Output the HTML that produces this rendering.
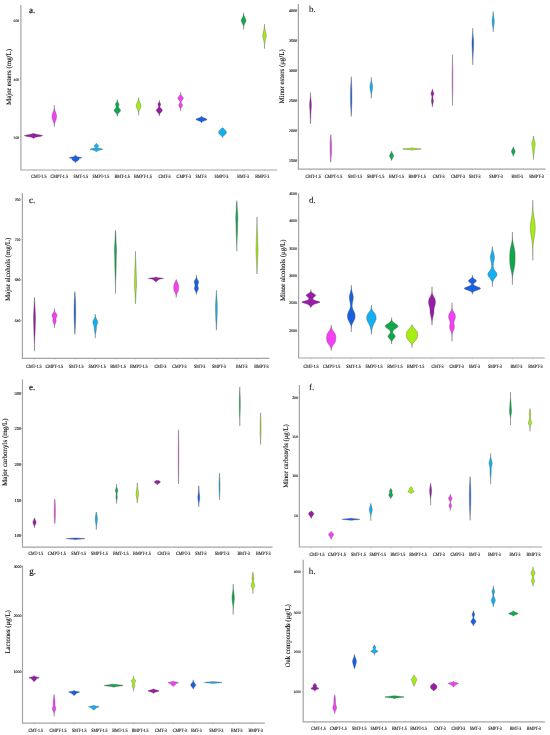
<!DOCTYPE html>
<html><head><meta charset="utf-8"><title>Violin plots</title>
<style>
html,body{margin:0;padding:0;background:#fff;}
svg{display:block;filter:blur(0.3px);}
.t{font-family:"Liberation Serif","Times New Roman",serif;fill:#111;stroke:#111;stroke-width:0.15px;text-rendering:geometricPrecision;}
</style></head>
<body>
<svg width="550" height="735" viewBox="0 0 550 735">
<rect width="550" height="735" fill="#fff"/>
<path d="M20.9,5 V170 H277.2" fill="none" stroke="#a4a4a4" stroke-width="1.2"/>
<path d="M19.6,20 H20.9" stroke="#a4a4a4" stroke-width="0.5"/>
<text x="19.1" y="21.62" font-size="3.7" text-anchor="end" class="t" style="stroke-width:0.12px">600</text>
<path d="M19.6,79 H20.9" stroke="#a4a4a4" stroke-width="0.5"/>
<text x="19.1" y="80.62" font-size="3.7" text-anchor="end" class="t" style="stroke-width:0.12px">400</text>
<path d="M19.6,137.6 H20.9" stroke="#a4a4a4" stroke-width="0.5"/>
<text x="19.1" y="139.22" font-size="3.7" text-anchor="end" class="t" style="stroke-width:0.12px">200</text>
<path d="M33.8,170 V171.2" stroke="#a4a4a4" stroke-width="0.5"/>
<path d="M54.82,170 V171.2" stroke="#a4a4a4" stroke-width="0.5"/>
<path d="M75.84,170 V171.2" stroke="#a4a4a4" stroke-width="0.5"/>
<path d="M96.86,170 V171.2" stroke="#a4a4a4" stroke-width="0.5"/>
<path d="M117.88,170 V171.2" stroke="#a4a4a4" stroke-width="0.5"/>
<path d="M138.9,170 V171.2" stroke="#a4a4a4" stroke-width="0.5"/>
<path d="M159.92,170 V171.2" stroke="#a4a4a4" stroke-width="0.5"/>
<path d="M180.94,170 V171.2" stroke="#a4a4a4" stroke-width="0.5"/>
<path d="M201.96,170 V171.2" stroke="#a4a4a4" stroke-width="0.5"/>
<path d="M222.98,170 V171.2" stroke="#a4a4a4" stroke-width="0.5"/>
<path d="M244,170 V171.2" stroke="#a4a4a4" stroke-width="0.5"/>
<path d="M265.02,170 V171.2" stroke="#a4a4a4" stroke-width="0.5"/>
<text x="31.3" y="178.3" font-size="5.0" textLength="15.2" lengthAdjust="spacingAndGlyphs" class="t" style="stroke-width:0.12px">CMT-1.5</text>
<text x="50.5" y="178.3" font-size="5.0" textLength="17.5" lengthAdjust="spacingAndGlyphs" class="t" style="stroke-width:0.12px">CMPT-1.5</text>
<text x="73.5" y="178.3" font-size="5.0" textLength="14.5" lengthAdjust="spacingAndGlyphs" class="t" style="stroke-width:0.12px">SMT-1.5</text>
<text x="92.6" y="178.3" font-size="5.0" textLength="16.6" lengthAdjust="spacingAndGlyphs" class="t" style="stroke-width:0.12px">SMPT-1.5</text>
<text x="114.4" y="178.3" font-size="5.0" textLength="15.6" lengthAdjust="spacingAndGlyphs" class="t" style="stroke-width:0.12px">BMT-1.5</text>
<text x="134" y="178.3" font-size="5.0" textLength="17.9" lengthAdjust="spacingAndGlyphs" class="t" style="stroke-width:0.12px">BMPT-1.5</text>
<text x="158.4" y="178.3" font-size="5.0" textLength="12.3" lengthAdjust="spacingAndGlyphs" class="t" style="stroke-width:0.12px">CMT-3</text>
<text x="176.6" y="178.3" font-size="5.0" textLength="14.5" lengthAdjust="spacingAndGlyphs" class="t" style="stroke-width:0.12px">CMPT-3</text>
<text x="195.5" y="178.3" font-size="5.0" textLength="11.1" lengthAdjust="spacingAndGlyphs" class="t" style="stroke-width:0.12px">SMT-3</text>
<text x="214.6" y="178.3" font-size="5.0" textLength="13.8" lengthAdjust="spacingAndGlyphs" class="t" style="stroke-width:0.12px">SMPT-3</text>
<text x="237.3" y="178.3" font-size="5.0" textLength="11.6" lengthAdjust="spacingAndGlyphs" class="t" style="stroke-width:0.12px">BMT-3</text>
<text x="255.2" y="178.3" font-size="5.0" textLength="14" lengthAdjust="spacingAndGlyphs" class="t" style="stroke-width:0.12px">BMPT-3</text>
<text x="29" y="12.6" font-size="9.0" class="t" style="stroke-width:0.18px">a.</text>
<text transform="translate(8.5,76.9) rotate(-90)" y="2.4" font-size="7.0" text-anchor="middle" style="stroke-width:0.12px" textLength="56" lengthAdjust="spacingAndGlyphs" class="t">Major esters (mg/L)</text>
<path d="M33.5,133.5 L34.77,133.64 L35.02,133.77 L35.33,133.91 L35.71,134.05 L36.17,134.19 L36.71,134.32 L37.34,134.46 L38.04,134.6 L38.81,134.73 L39.61,134.87 L40.4,135.01 L41.15,135.15 L41.79,135.28 L42.28,135.42 L42.59,135.56 L42.68,135.69 L42.55,135.83 L42.21,135.97 L41.68,136.11 L41.01,136.24 L40.23,136.38 L39.4,136.52 L38.57,136.65 L37.78,136.79 L37.05,136.93 L36.41,137.07 L35.85,137.2 L35.39,137.34 L35.02,137.48 L34.71,137.61 L34.47,137.75 L34.29,137.89 L34.14,138.03 L34.02,138.16 L33.5,138.3 L33.5,138.3 L32.98,138.16 L32.86,138.03 L32.71,137.89 L32.53,137.75 L32.29,137.61 L31.98,137.48 L31.61,137.34 L31.15,137.2 L30.59,137.07 L29.95,136.93 L29.22,136.79 L28.43,136.65 L27.6,136.52 L26.77,136.38 L25.99,136.24 L25.32,136.11 L24.79,135.97 L24.45,135.83 L24.32,135.69 L24.41,135.56 L24.72,135.42 L25.21,135.28 L25.85,135.15 L26.6,135.01 L27.39,134.87 L28.19,134.73 L28.96,134.6 L29.66,134.46 L30.29,134.32 L30.83,134.19 L31.29,134.05 L31.67,133.91 L31.98,133.77 L32.23,133.64 L33.5,133.5Z" fill="#981ca6" stroke="#4a4a4a" stroke-width="0.35" stroke-linejoin="round"/>
<path d="M54.3,105.2 L54.31,105.81 L54.33,106.43 L54.35,107.04 L54.39,107.66 L54.45,108.27 L54.54,108.89 L54.67,109.5 L54.83,110.11 L55.03,110.73 L55.25,111.34 L55.5,111.96 L55.74,112.57 L55.97,113.19 L56.16,113.8 L56.32,114.41 L56.42,115.03 L56.48,115.64 L56.5,116.26 L56.5,116.87 L56.47,117.49 L56.4,118.1 L56.29,118.71 L56.13,119.33 L55.92,119.94 L55.69,120.56 L55.45,121.17 L55.2,121.79 L54.98,122.4 L54.79,123.01 L54.64,123.63 L54.52,124.24 L54.43,124.86 L54.38,125.47 L54.34,126.09 L54.3,126.7 L54.3,126.7 L54.26,126.09 L54.22,125.47 L54.17,124.86 L54.08,124.24 L53.96,123.63 L53.81,123.01 L53.62,122.4 L53.4,121.79 L53.15,121.17 L52.91,120.56 L52.68,119.94 L52.47,119.33 L52.31,118.71 L52.2,118.1 L52.13,117.49 L52.1,116.87 L52.1,116.26 L52.12,115.64 L52.18,115.03 L52.28,114.41 L52.44,113.8 L52.63,113.19 L52.86,112.57 L53.1,111.96 L53.35,111.34 L53.57,110.73 L53.77,110.11 L53.93,109.5 L54.06,108.89 L54.15,108.27 L54.21,107.66 L54.25,107.04 L54.27,106.43 L54.29,105.81 L54.3,105.2Z" fill="#f73ef7" stroke="#4a4a4a" stroke-width="0.35" stroke-linejoin="round"/>
<path d="M75.5,155.2 L75.96,155.41 L76.15,155.62 L76.34,155.83 L76.51,156.05 L76.67,156.26 L76.86,156.47 L77.21,156.68 L77.88,156.89 L78.94,157.1 L80.23,157.31 L81.33,157.53 L81.8,157.74 L81.5,157.95 L80.68,158.16 L79.79,158.37 L79.17,158.58 L78.9,158.79 L78.88,159.01 L78.95,159.22 L79.01,159.43 L78.98,159.64 L78.85,159.85 L78.64,160.06 L78.34,160.27 L78,160.49 L77.63,160.7 L77.26,160.91 L76.91,161.12 L76.59,161.33 L76.32,161.54 L76.1,161.75 L75.92,161.97 L75.79,162.18 L75.69,162.39 L75.5,162.6 L75.5,162.6 L75.31,162.39 L75.21,162.18 L75.08,161.97 L74.9,161.75 L74.68,161.54 L74.41,161.33 L74.09,161.12 L73.74,160.91 L73.37,160.7 L73,160.49 L72.66,160.27 L72.36,160.06 L72.15,159.85 L72.02,159.64 L71.99,159.43 L72.05,159.22 L72.12,159.01 L72.1,158.79 L71.83,158.58 L71.21,158.37 L70.32,158.16 L69.5,157.95 L69.2,157.74 L69.67,157.53 L70.77,157.31 L72.06,157.1 L73.12,156.89 L73.79,156.68 L74.14,156.47 L74.33,156.26 L74.49,156.05 L74.66,155.83 L74.85,155.62 L75.04,155.41 L75.5,155.2Z" fill="#1760e4" stroke="#4a4a4a" stroke-width="0.35" stroke-linejoin="round"/>
<path d="M96.4,143.2 L96.54,143.44 L96.65,143.69 L96.8,143.93 L97.01,144.17 L97.28,144.41 L97.6,144.66 L97.94,144.9 L98.26,145.14 L98.52,145.39 L98.68,145.63 L98.71,145.87 L98.63,146.11 L98.43,146.36 L98.18,146.6 L97.91,146.84 L97.68,147.09 L97.54,147.33 L97.54,147.57 L97.76,147.81 L98.28,148.06 L99.18,148.3 L100.38,148.54 L101.65,148.79 L102.58,149.03 L102.84,149.27 L102.33,149.51 L101.28,149.76 L100.08,150 L99.04,150.24 L98.28,150.49 L97.76,150.73 L97.4,150.97 L97.14,151.21 L96.93,151.46 L96.4,151.7 L96.4,151.7 L95.87,151.46 L95.66,151.21 L95.4,150.97 L95.04,150.73 L94.52,150.49 L93.76,150.24 L92.72,150 L91.52,149.76 L90.47,149.51 L89.96,149.27 L90.22,149.03 L91.15,148.79 L92.42,148.54 L93.62,148.3 L94.52,148.06 L95.04,147.81 L95.26,147.57 L95.26,147.33 L95.12,147.09 L94.89,146.84 L94.62,146.6 L94.37,146.36 L94.17,146.11 L94.09,145.87 L94.12,145.63 L94.28,145.39 L94.54,145.14 L94.86,144.9 L95.2,144.66 L95.52,144.41 L95.79,144.17 L96,143.93 L96.15,143.69 L96.26,143.44 L96.4,143.2Z" fill="#12b0ee" stroke="#4a4a4a" stroke-width="0.35" stroke-linejoin="round"/>
<path d="M117.3,99.4 L117.33,99.89 L117.37,100.37 L117.45,100.86 L117.57,101.34 L117.77,101.83 L118.03,102.31 L118.33,102.8 L118.64,103.29 L118.89,103.77 L119.02,104.26 L119.02,104.74 L118.9,105.23 L118.72,105.71 L118.56,106.2 L118.48,106.69 L118.55,107.17 L118.76,107.66 L119.1,108.14 L119.51,108.63 L119.92,109.11 L120.26,109.6 L120.46,110.09 L120.49,110.57 L120.33,111.06 L120.02,111.54 L119.6,112.03 L119.13,112.51 L118.67,113 L118.27,113.49 L117.95,113.97 L117.71,114.46 L117.54,114.94 L117.44,115.43 L117.37,115.91 L117.3,116.4 L117.3,116.4 L117.23,115.91 L117.16,115.43 L117.06,114.94 L116.89,114.46 L116.65,113.97 L116.33,113.49 L115.93,113 L115.47,112.51 L115,112.03 L114.58,111.54 L114.27,111.06 L114.11,110.57 L114.14,110.09 L114.34,109.6 L114.68,109.11 L115.09,108.63 L115.5,108.14 L115.84,107.66 L116.05,107.17 L116.12,106.69 L116.04,106.2 L115.88,105.71 L115.7,105.23 L115.58,104.74 L115.58,104.26 L115.71,103.77 L115.96,103.29 L116.27,102.8 L116.57,102.31 L116.83,101.83 L117.03,101.34 L117.15,100.86 L117.23,100.37 L117.27,99.89 L117.3,99.4Z" fill="#10a84a" stroke="#4a4a4a" stroke-width="0.35" stroke-linejoin="round"/>
<path d="M138.6,97.8 L138.71,98.3 L138.76,98.8 L138.83,99.3 L138.92,99.8 L139.05,100.3 L139.2,100.8 L139.38,101.3 L139.59,101.8 L139.82,102.3 L140.06,102.8 L140.3,103.3 L140.52,103.8 L140.72,104.3 L140.87,104.8 L140.97,105.3 L141,105.8 L140.97,106.3 L140.87,106.8 L140.72,107.3 L140.52,107.8 L140.3,108.3 L140.06,108.8 L139.82,109.3 L139.59,109.8 L139.38,110.3 L139.2,110.8 L139.05,111.3 L138.92,111.8 L138.83,112.3 L138.76,112.8 L138.71,113.3 L138.67,113.8 L138.64,114.3 L138.63,114.8 L138.6,115.3 L138.6,115.3 L138.57,114.8 L138.56,114.3 L138.53,113.8 L138.49,113.3 L138.44,112.8 L138.37,112.3 L138.28,111.8 L138.15,111.3 L138,110.8 L137.82,110.3 L137.61,109.8 L137.38,109.3 L137.14,108.8 L136.9,108.3 L136.68,107.8 L136.48,107.3 L136.33,106.8 L136.23,106.3 L136.2,105.8 L136.23,105.3 L136.33,104.8 L136.48,104.3 L136.68,103.8 L136.9,103.3 L137.14,102.8 L137.38,102.3 L137.61,101.8 L137.82,101.3 L138,100.8 L138.15,100.3 L138.28,99.8 L138.37,99.3 L138.44,98.8 L138.49,98.3 L138.6,97.8Z" fill="#a6ee12" stroke="#4a4a4a" stroke-width="0.35" stroke-linejoin="round"/>
<path d="M159.3,100.2 L159.33,100.65 L159.37,101.11 L159.45,101.56 L159.6,102.02 L159.82,102.47 L160.1,102.93 L160.39,103.38 L160.62,103.83 L160.72,104.29 L160.66,104.74 L160.47,105.2 L160.25,105.65 L160.07,106.11 L160,106.56 L160.07,107.01 L160.28,107.47 L160.61,107.92 L161.01,108.38 L161.44,108.83 L161.83,109.29 L162.12,109.74 L162.28,110.19 L162.27,110.65 L162.1,111.1 L161.79,111.56 L161.39,112.01 L160.96,112.47 L160.54,112.92 L160.18,113.37 L159.89,113.83 L159.67,114.28 L159.52,114.74 L159.42,115.19 L159.37,115.65 L159.3,116.1 L159.3,116.1 L159.23,115.65 L159.18,115.19 L159.08,114.74 L158.93,114.28 L158.71,113.83 L158.42,113.37 L158.06,112.92 L157.64,112.47 L157.21,112.01 L156.81,111.56 L156.5,111.1 L156.33,110.65 L156.32,110.19 L156.48,109.74 L156.77,109.29 L157.16,108.83 L157.59,108.38 L157.99,107.92 L158.32,107.47 L158.53,107.01 L158.6,106.56 L158.53,106.11 L158.35,105.65 L158.13,105.2 L157.94,104.74 L157.88,104.29 L157.98,103.83 L158.21,103.38 L158.5,102.93 L158.78,102.47 L159,102.02 L159.15,101.56 L159.23,101.11 L159.27,100.65 L159.3,100.2Z" fill="#981ca6" stroke="#4a4a4a" stroke-width="0.35" stroke-linejoin="round"/>
<path d="M180.6,92.4 L180.64,92.94 L180.69,93.47 L180.78,94.01 L180.94,94.55 L181.2,95.09 L181.57,95.62 L182.02,96.16 L182.51,96.7 L182.94,97.23 L183.22,97.77 L183.3,98.31 L183.13,98.85 L182.78,99.38 L182.32,99.92 L181.86,100.46 L181.49,100.99 L181.25,101.53 L181.18,102.07 L181.28,102.61 L181.51,103.14 L181.83,103.68 L182.16,104.22 L182.41,104.75 L182.5,105.29 L182.41,105.83 L182.16,106.37 L181.82,106.9 L181.46,107.44 L181.15,107.98 L180.92,108.51 L180.77,109.05 L180.68,109.59 L180.63,110.13 L180.61,110.66 L180.6,111.2 L180.6,111.2 L180.59,110.66 L180.57,110.13 L180.52,109.59 L180.43,109.05 L180.28,108.51 L180.05,107.98 L179.74,107.44 L179.38,106.9 L179.04,106.37 L178.79,105.83 L178.7,105.29 L178.79,104.75 L179.04,104.22 L179.37,103.68 L179.69,103.14 L179.92,102.61 L180.02,102.07 L179.95,101.53 L179.71,100.99 L179.34,100.46 L178.88,99.92 L178.42,99.38 L178.07,98.85 L177.9,98.31 L177.98,97.77 L178.26,97.23 L178.69,96.7 L179.18,96.16 L179.63,95.62 L180,95.09 L180.26,94.55 L180.42,94.01 L180.51,93.47 L180.56,92.94 L180.6,92.4Z" fill="#f73ef7" stroke="#4a4a4a" stroke-width="0.35" stroke-linejoin="round"/>
<path d="M201.5,116.2 L201.74,116.39 L201.85,116.58 L202,116.77 L202.2,116.97 L202.46,117.16 L202.78,117.35 L203.15,117.54 L203.59,117.73 L204.08,117.92 L204.6,118.11 L205.13,118.31 L205.64,118.5 L206.11,118.69 L206.51,118.88 L206.8,119.07 L206.96,119.26 L206.99,119.45 L206.89,119.65 L206.65,119.84 L206.29,120.03 L205.85,120.22 L205.36,120.41 L204.83,120.6 L204.3,120.79 L203.8,120.99 L203.34,121.18 L202.93,121.37 L202.59,121.56 L202.31,121.75 L202.08,121.94 L201.91,122.13 L201.78,122.33 L201.69,122.52 L201.62,122.71 L201.5,122.9 L201.5,122.9 L201.38,122.71 L201.31,122.52 L201.22,122.33 L201.09,122.13 L200.92,121.94 L200.69,121.75 L200.41,121.56 L200.07,121.37 L199.66,121.18 L199.2,120.99 L198.7,120.79 L198.17,120.6 L197.64,120.41 L197.15,120.22 L196.71,120.03 L196.35,119.84 L196.11,119.65 L196.01,119.45 L196.04,119.26 L196.2,119.07 L196.49,118.88 L196.89,118.69 L197.36,118.5 L197.87,118.31 L198.4,118.11 L198.92,117.92 L199.41,117.73 L199.85,117.54 L200.22,117.35 L200.54,117.16 L200.8,116.97 L201,116.77 L201.15,116.58 L201.26,116.39 L201.5,116.2Z" fill="#1760e4" stroke="#4a4a4a" stroke-width="0.35" stroke-linejoin="round"/>
<path d="M222.5,127.7 L223.11,127.99 L223.32,128.27 L223.58,128.56 L223.87,128.84 L224.19,129.13 L224.53,129.41 L224.86,129.7 L225.18,129.99 L225.47,130.27 L225.72,130.56 L225.92,130.84 L226.07,131.13 L226.17,131.41 L226.23,131.7 L226.27,131.99 L226.3,132.27 L226.31,132.56 L226.3,132.84 L226.24,133.13 L226.14,133.41 L225.98,133.7 L225.76,133.99 L225.48,134.27 L225.16,134.56 L224.8,134.84 L224.43,135.13 L224.06,135.41 L223.71,135.7 L223.4,135.99 L223.15,136.27 L222.95,136.56 L222.79,136.84 L222.69,137.13 L222.61,137.41 L222.5,137.7 L222.5,137.7 L222.39,137.41 L222.31,137.13 L222.21,136.84 L222.05,136.56 L221.85,136.27 L221.6,135.99 L221.29,135.7 L220.94,135.41 L220.57,135.13 L220.2,134.84 L219.84,134.56 L219.52,134.27 L219.24,133.99 L219.02,133.7 L218.86,133.41 L218.76,133.13 L218.7,132.84 L218.69,132.56 L218.7,132.27 L218.73,131.99 L218.77,131.7 L218.83,131.41 L218.93,131.13 L219.08,130.84 L219.28,130.56 L219.53,130.27 L219.82,129.99 L220.14,129.7 L220.47,129.41 L220.81,129.13 L221.13,128.84 L221.42,128.56 L221.68,128.27 L221.89,127.99 L222.5,127.7Z" fill="#12b0ee" stroke="#4a4a4a" stroke-width="0.35" stroke-linejoin="round"/>
<path d="M243.6,12.7 L243.65,13.18 L243.68,13.66 L243.72,14.14 L243.79,14.62 L243.88,15.1 L244,15.58 L244.16,16.06 L244.35,16.54 L244.58,17.02 L244.83,17.5 L245.1,17.98 L245.36,18.46 L245.6,18.94 L245.8,19.42 L245.94,19.9 L246,20.38 L245.98,20.86 L245.88,21.34 L245.71,21.82 L245.49,22.3 L245.23,22.78 L244.97,23.26 L244.7,23.74 L244.46,24.22 L244.25,24.7 L244.07,25.18 L243.93,25.66 L243.83,26.14 L243.75,26.62 L243.7,27.1 L243.66,27.58 L243.64,28.06 L243.62,28.54 L243.61,29.02 L243.6,29.5 L243.6,29.5 L243.59,29.02 L243.58,28.54 L243.56,28.06 L243.54,27.58 L243.5,27.1 L243.45,26.62 L243.37,26.14 L243.27,25.66 L243.13,25.18 L242.95,24.7 L242.74,24.22 L242.5,23.74 L242.23,23.26 L241.97,22.78 L241.71,22.3 L241.49,21.82 L241.32,21.34 L241.22,20.86 L241.2,20.38 L241.26,19.9 L241.4,19.42 L241.6,18.94 L241.84,18.46 L242.1,17.98 L242.37,17.5 L242.62,17.02 L242.85,16.54 L243.04,16.06 L243.2,15.58 L243.32,15.1 L243.41,14.62 L243.48,14.14 L243.52,13.66 L243.55,13.18 L243.6,12.7Z" fill="#10a84a" stroke="#4a4a4a" stroke-width="0.35" stroke-linejoin="round"/>
<path d="M264.5,24.1 L264.55,24.8 L264.57,25.5 L264.61,26.2 L264.67,26.9 L264.74,27.6 L264.84,28.3 L264.95,29 L265.09,29.7 L265.25,30.4 L265.43,31.1 L265.61,31.8 L265.78,32.5 L265.94,33.2 L266.07,33.9 L266.16,34.6 L266.2,35.3 L266.19,36 L266.13,36.7 L266.02,37.4 L265.88,38.1 L265.71,38.8 L265.53,39.5 L265.35,40.2 L265.18,40.9 L265.03,41.6 L264.9,42.3 L264.79,43 L264.71,43.7 L264.64,44.4 L264.6,45.1 L264.56,45.8 L264.54,46.5 L264.52,47.2 L264.51,47.9 L264.5,48.6 L264.5,48.6 L264.49,47.9 L264.48,47.2 L264.46,46.5 L264.44,45.8 L264.4,45.1 L264.36,44.4 L264.29,43.7 L264.21,43 L264.1,42.3 L263.97,41.6 L263.82,40.9 L263.65,40.2 L263.47,39.5 L263.29,38.8 L263.12,38.1 L262.98,37.4 L262.87,36.7 L262.81,36 L262.8,35.3 L262.84,34.6 L262.93,33.9 L263.06,33.2 L263.22,32.5 L263.39,31.8 L263.57,31.1 L263.75,30.4 L263.91,29.7 L264.05,29 L264.16,28.3 L264.26,27.6 L264.33,26.9 L264.39,26.2 L264.43,25.5 L264.45,24.8 L264.5,24.1Z" fill="#a6ee12" stroke="#4a4a4a" stroke-width="0.35" stroke-linejoin="round"/>
<path d="M298.4,4 V169.2 H545.5" fill="none" stroke="#a4a4a4" stroke-width="1.2"/>
<path d="M297.1,10 H298.4" stroke="#a4a4a4" stroke-width="0.5"/>
<text x="297.1" y="12.15" font-size="4.1" text-anchor="end" class="t" style="stroke-width:0.12px">4000</text>
<path d="M297.1,40 H298.4" stroke="#a4a4a4" stroke-width="0.5"/>
<text x="297.1" y="42.15" font-size="4.1" text-anchor="end" class="t" style="stroke-width:0.12px">3500</text>
<path d="M297.1,70 H298.4" stroke="#a4a4a4" stroke-width="0.5"/>
<text x="297.1" y="72.15" font-size="4.1" text-anchor="end" class="t" style="stroke-width:0.12px">3000</text>
<path d="M297.1,100 H298.4" stroke="#a4a4a4" stroke-width="0.5"/>
<text x="297.1" y="102.15" font-size="4.1" text-anchor="end" class="t" style="stroke-width:0.12px">2500</text>
<path d="M297.1,130 H298.4" stroke="#a4a4a4" stroke-width="0.5"/>
<text x="297.1" y="132.15" font-size="4.1" text-anchor="end" class="t" style="stroke-width:0.12px">2000</text>
<path d="M297.1,160 H298.4" stroke="#a4a4a4" stroke-width="0.5"/>
<text x="297.1" y="162.15" font-size="4.1" text-anchor="end" class="t" style="stroke-width:0.12px">1500</text>
<path d="M310.4,169.2 V170.4" stroke="#a4a4a4" stroke-width="0.5"/>
<path d="M330.66,169.2 V170.4" stroke="#a4a4a4" stroke-width="0.5"/>
<path d="M350.92,169.2 V170.4" stroke="#a4a4a4" stroke-width="0.5"/>
<path d="M371.18,169.2 V170.4" stroke="#a4a4a4" stroke-width="0.5"/>
<path d="M391.44,169.2 V170.4" stroke="#a4a4a4" stroke-width="0.5"/>
<path d="M411.7,169.2 V170.4" stroke="#a4a4a4" stroke-width="0.5"/>
<path d="M431.96,169.2 V170.4" stroke="#a4a4a4" stroke-width="0.5"/>
<path d="M452.22,169.2 V170.4" stroke="#a4a4a4" stroke-width="0.5"/>
<path d="M472.48,169.2 V170.4" stroke="#a4a4a4" stroke-width="0.5"/>
<path d="M492.74,169.2 V170.4" stroke="#a4a4a4" stroke-width="0.5"/>
<path d="M513,169.2 V170.4" stroke="#a4a4a4" stroke-width="0.5"/>
<path d="M533.26,169.2 V170.4" stroke="#a4a4a4" stroke-width="0.5"/>
<text x="305.6" y="178.3" font-size="5.0" textLength="15.2" lengthAdjust="spacingAndGlyphs" class="t" style="stroke-width:0.12px">CMT-1.5</text>
<text x="324.8" y="178.3" font-size="5.0" textLength="17.5" lengthAdjust="spacingAndGlyphs" class="t" style="stroke-width:0.12px">CMPT-1.5</text>
<text x="348.1" y="178.3" font-size="5.0" textLength="14.1" lengthAdjust="spacingAndGlyphs" class="t" style="stroke-width:0.12px">SMT-1.5</text>
<text x="366.9" y="178.3" font-size="5.0" textLength="17.4" lengthAdjust="spacingAndGlyphs" class="t" style="stroke-width:0.12px">SMPT-1.5</text>
<text x="389.1" y="178.3" font-size="5.0" textLength="14.9" lengthAdjust="spacingAndGlyphs" class="t" style="stroke-width:0.12px">BMT-1.5</text>
<text x="408.4" y="178.3" font-size="5.0" textLength="17.4" lengthAdjust="spacingAndGlyphs" class="t" style="stroke-width:0.12px">BMPT-1.5</text>
<text x="432.7" y="178.3" font-size="5.0" textLength="12" lengthAdjust="spacingAndGlyphs" class="t" style="stroke-width:0.12px">CMT-3</text>
<text x="450.9" y="178.3" font-size="5.0" textLength="14.1" lengthAdjust="spacingAndGlyphs" class="t" style="stroke-width:0.12px">CMPT-3</text>
<text x="469" y="178.3" font-size="5.0" textLength="11.6" lengthAdjust="spacingAndGlyphs" class="t" style="stroke-width:0.12px">SMT-3</text>
<text x="489.3" y="178.3" font-size="5.0" textLength="13.5" lengthAdjust="spacingAndGlyphs" class="t" style="stroke-width:0.12px">SMPT-3</text>
<text x="511.6" y="178.3" font-size="5.0" textLength="11.5" lengthAdjust="spacingAndGlyphs" class="t" style="stroke-width:0.12px">BMT-3</text>
<text x="529.3" y="178.3" font-size="5.0" textLength="14.5" lengthAdjust="spacingAndGlyphs" class="t" style="stroke-width:0.12px">BMPT-3</text>
<text x="308.9" y="12.4" font-size="9.0" class="t" style="stroke-width:0.05px">b.</text>
<text transform="translate(281.1,76.35) rotate(-90)" y="2.4" font-size="7.0" text-anchor="middle" style="stroke-width:0.12px" textLength="54.1" lengthAdjust="spacingAndGlyphs" class="t">Minor esters (μg/L)</text>
<path d="M310.5,92.5 L310.57,93.39 L310.59,94.29 L310.63,95.18 L310.68,96.08 L310.74,96.97 L310.81,97.87 L310.9,98.76 L311,99.65 L311.1,100.55 L311.2,101.44 L311.29,102.34 L311.35,103.23 L311.39,104.13 L311.4,105.02 L311.39,105.91 L311.35,106.81 L311.29,107.7 L311.23,108.6 L311.16,109.49 L311.1,110.39 L311.05,111.28 L311,112.17 L310.96,113.07 L310.92,113.96 L310.89,114.86 L310.85,115.75 L310.82,116.65 L310.79,117.54 L310.76,118.43 L310.73,119.33 L310.7,120.22 L310.67,121.12 L310.65,122.01 L310.62,122.91 L310.5,123.8 L310.5,123.8 L310.38,122.91 L310.35,122.01 L310.33,121.12 L310.3,120.22 L310.27,119.33 L310.24,118.43 L310.21,117.54 L310.18,116.65 L310.15,115.75 L310.11,114.86 L310.08,113.96 L310.04,113.07 L310,112.17 L309.95,111.28 L309.9,110.39 L309.84,109.49 L309.77,108.6 L309.71,107.7 L309.65,106.81 L309.61,105.91 L309.6,105.02 L309.61,104.13 L309.65,103.23 L309.71,102.34 L309.8,101.44 L309.9,100.55 L310,99.65 L310.1,98.76 L310.19,97.87 L310.26,96.97 L310.32,96.08 L310.37,95.18 L310.41,94.29 L310.43,93.39 L310.5,92.5Z" fill="#981ca6" stroke="#4a4a4a" stroke-width="0.35" stroke-linejoin="round"/>
<path d="M330.8,134.7 L331,135.49 L331.05,136.28 L331.11,137.07 L331.17,137.87 L331.23,138.66 L331.29,139.45 L331.34,140.24 L331.39,141.03 L331.44,141.82 L331.47,142.61 L331.5,143.41 L331.52,144.2 L331.54,144.99 L331.54,145.78 L331.55,146.57 L331.55,147.36 L331.55,148.15 L331.55,148.95 L331.55,149.74 L331.54,150.53 L331.53,151.32 L331.52,152.11 L331.49,152.9 L331.46,153.69 L331.42,154.49 L331.38,155.28 L331.32,156.07 L331.27,156.86 L331.2,157.65 L331.14,158.44 L331.08,159.23 L331.03,160.03 L330.98,160.82 L330.93,161.61 L330.8,162.4 L330.8,162.4 L330.67,161.61 L330.62,160.82 L330.57,160.03 L330.52,159.23 L330.46,158.44 L330.4,157.65 L330.33,156.86 L330.28,156.07 L330.22,155.28 L330.18,154.49 L330.14,153.69 L330.11,152.9 L330.08,152.11 L330.07,151.32 L330.06,150.53 L330.05,149.74 L330.05,148.95 L330.05,148.15 L330.05,147.36 L330.05,146.57 L330.06,145.78 L330.06,144.99 L330.08,144.2 L330.1,143.41 L330.13,142.61 L330.16,141.82 L330.21,141.03 L330.26,140.24 L330.31,139.45 L330.37,138.66 L330.43,137.87 L330.49,137.07 L330.55,136.28 L330.6,135.49 L330.8,134.7Z" fill="#f73ef7" stroke="#4a4a4a" stroke-width="0.35" stroke-linejoin="round"/>
<path d="M351.2,76.5 L351.29,77.64 L351.32,78.79 L351.37,79.93 L351.42,81.07 L351.47,82.21 L351.54,83.36 L351.6,84.5 L351.66,85.64 L351.71,86.79 L351.76,87.93 L351.81,89.07 L351.84,90.21 L351.86,91.36 L351.88,92.5 L351.89,93.64 L351.9,94.79 L351.9,95.93 L351.9,97.07 L351.9,98.21 L351.9,99.36 L351.89,100.5 L351.88,101.64 L351.86,102.79 L351.84,103.93 L351.8,105.07 L351.76,106.21 L351.71,107.36 L351.65,108.5 L351.59,109.64 L351.53,110.79 L351.47,111.93 L351.41,113.07 L351.36,114.21 L351.32,115.36 L351.2,116.5 L351.2,116.5 L351.08,115.36 L351.04,114.21 L350.99,113.07 L350.93,111.93 L350.87,110.79 L350.81,109.64 L350.75,108.5 L350.69,107.36 L350.64,106.21 L350.6,105.07 L350.56,103.93 L350.54,102.79 L350.52,101.64 L350.51,100.5 L350.5,99.36 L350.5,98.21 L350.5,97.07 L350.5,95.93 L350.5,94.79 L350.51,93.64 L350.52,92.5 L350.54,91.36 L350.56,90.21 L350.59,89.07 L350.64,87.93 L350.69,86.79 L350.74,85.64 L350.8,84.5 L350.86,83.36 L350.93,82.21 L350.98,81.07 L351.03,79.93 L351.08,78.79 L351.11,77.64 L351.2,76.5Z" fill="#1760e4" stroke="#4a4a4a" stroke-width="0.35" stroke-linejoin="round"/>
<path d="M371.3,77.3 L371.33,77.9 L371.35,78.51 L371.38,79.11 L371.42,79.71 L371.49,80.31 L371.57,80.92 L371.67,81.52 L371.8,82.12 L371.94,82.73 L372.09,83.33 L372.24,83.93 L372.39,84.53 L372.52,85.14 L372.61,85.74 L372.68,86.34 L372.7,86.95 L372.69,87.55 L372.65,88.15 L372.57,88.75 L372.47,89.36 L372.36,89.96 L372.24,90.56 L372.11,91.17 L371.98,91.77 L371.85,92.37 L371.74,92.97 L371.64,93.58 L371.55,94.18 L371.48,94.78 L371.43,95.39 L371.39,95.99 L371.36,96.59 L371.33,97.19 L371.32,97.8 L371.3,98.4 L371.3,98.4 L371.28,97.8 L371.27,97.19 L371.24,96.59 L371.21,95.99 L371.17,95.39 L371.12,94.78 L371.05,94.18 L370.96,93.58 L370.86,92.97 L370.75,92.37 L370.62,91.77 L370.49,91.17 L370.36,90.56 L370.24,89.96 L370.13,89.36 L370.03,88.75 L369.95,88.15 L369.91,87.55 L369.9,86.95 L369.92,86.34 L369.99,85.74 L370.08,85.14 L370.21,84.53 L370.36,83.93 L370.51,83.33 L370.66,82.73 L370.8,82.12 L370.93,81.52 L371.03,80.92 L371.11,80.31 L371.18,79.71 L371.22,79.11 L371.25,78.51 L371.27,77.9 L371.3,77.3Z" fill="#12b0ee" stroke="#4a4a4a" stroke-width="0.35" stroke-linejoin="round"/>
<path d="M391.6,151.1 L391.77,151.37 L391.83,151.64 L391.9,151.91 L391.99,152.17 L392.09,152.44 L392.21,152.71 L392.34,152.98 L392.49,153.25 L392.64,153.52 L392.8,153.79 L392.97,154.05 L393.12,154.32 L393.27,154.59 L393.39,154.86 L393.49,155.13 L393.56,155.4 L393.6,155.67 L393.6,155.93 L393.56,156.2 L393.49,156.47 L393.39,156.74 L393.27,157.01 L393.12,157.28 L392.97,157.55 L392.8,157.81 L392.64,158.08 L392.49,158.35 L392.34,158.62 L392.21,158.89 L392.09,159.16 L391.99,159.43 L391.9,159.69 L391.83,159.96 L391.77,160.23 L391.6,160.5 L391.6,160.5 L391.43,160.23 L391.37,159.96 L391.3,159.69 L391.21,159.43 L391.11,159.16 L390.99,158.89 L390.86,158.62 L390.71,158.35 L390.56,158.08 L390.4,157.81 L390.23,157.55 L390.08,157.28 L389.93,157.01 L389.81,156.74 L389.71,156.47 L389.64,156.2 L389.6,155.93 L389.6,155.67 L389.64,155.4 L389.71,155.13 L389.81,154.86 L389.93,154.59 L390.08,154.32 L390.23,154.05 L390.4,153.79 L390.56,153.52 L390.71,153.25 L390.86,152.98 L390.99,152.71 L391.11,152.44 L391.21,152.17 L391.3,151.91 L391.37,151.64 L391.43,151.37 L391.6,151.1Z" fill="#10a84a" stroke="#4a4a4a" stroke-width="0.35" stroke-linejoin="round"/>
<path d="M412,147.8 L412.4,147.87 L412.59,147.94 L412.84,148.01 L413.18,148.09 L413.61,148.16 L414.14,148.23 L414.77,148.3 L415.51,148.37 L416.32,148.44 L417.19,148.51 L418.09,148.59 L418.96,148.66 L419.75,148.73 L420.43,148.8 L420.93,148.87 L421.23,148.94 L421.3,149.01 L421.13,149.09 L420.75,149.16 L420.17,149.23 L419.45,149.3 L418.62,149.37 L417.73,149.44 L416.84,149.51 L415.99,149.59 L415.2,149.66 L414.51,149.73 L413.92,149.8 L413.43,149.87 L413.04,149.94 L412.73,150.01 L412.51,150.09 L412.34,150.16 L412.22,150.23 L412,150.3 L412,150.3 L411.78,150.23 L411.66,150.16 L411.49,150.09 L411.27,150.01 L410.96,149.94 L410.57,149.87 L410.08,149.8 L409.49,149.73 L408.8,149.66 L408.01,149.59 L407.16,149.51 L406.27,149.44 L405.38,149.37 L404.55,149.3 L403.83,149.23 L403.25,149.16 L402.87,149.09 L402.7,149.01 L402.77,148.94 L403.07,148.87 L403.57,148.8 L404.25,148.73 L405.04,148.66 L405.91,148.59 L406.81,148.51 L407.68,148.44 L408.49,148.37 L409.23,148.3 L409.86,148.23 L410.39,148.16 L410.82,148.09 L411.16,148.01 L411.41,147.94 L411.6,147.87 L412,147.8Z" fill="#a6ee12" stroke="#4a4a4a" stroke-width="0.35" stroke-linejoin="round"/>
<path d="M432.4,88.8 L432.49,89.32 L432.58,89.84 L432.71,90.36 L432.89,90.88 L433.11,91.4 L433.35,91.92 L433.58,92.44 L433.74,92.96 L433.81,93.48 L433.77,94 L433.63,94.52 L433.43,95.04 L433.22,95.56 L433.05,96.08 L432.93,96.6 L432.89,97.12 L432.9,97.64 L432.97,98.16 L433.07,98.68 L433.18,99.2 L433.28,99.72 L433.36,100.24 L433.4,100.76 L433.39,101.28 L433.35,101.8 L433.27,102.32 L433.16,102.84 L433.04,103.36 L432.92,103.88 L432.8,104.4 L432.69,104.92 L432.61,105.44 L432.54,105.96 L432.49,106.48 L432.4,107 L432.4,107 L432.31,106.48 L432.26,105.96 L432.19,105.44 L432.11,104.92 L432,104.4 L431.88,103.88 L431.76,103.36 L431.64,102.84 L431.53,102.32 L431.45,101.8 L431.41,101.28 L431.4,100.76 L431.44,100.24 L431.52,99.72 L431.62,99.2 L431.73,98.68 L431.83,98.16 L431.9,97.64 L431.91,97.12 L431.87,96.6 L431.75,96.08 L431.58,95.56 L431.37,95.04 L431.17,94.52 L431.03,94 L430.99,93.48 L431.06,92.96 L431.22,92.44 L431.45,91.92 L431.69,91.4 L431.91,90.88 L432.09,90.36 L432.22,89.84 L432.31,89.32 L432.4,88.8Z" fill="#981ca6" stroke="#4a4a4a" stroke-width="0.35" stroke-linejoin="round"/>
<path d="M452.5,54.7 L452.53,56.15 L452.55,57.61 L452.57,59.06 L452.59,60.52 L452.62,61.97 L452.65,63.43 L452.69,64.88 L452.72,66.33 L452.75,67.79 L452.78,69.24 L452.8,70.7 L452.82,72.15 L452.83,73.61 L452.84,75.06 L452.85,76.51 L452.85,77.97 L452.85,79.42 L452.85,80.88 L452.85,82.33 L452.85,83.79 L452.84,85.24 L452.83,86.69 L452.82,88.15 L452.8,89.6 L452.77,91.06 L452.74,92.51 L452.71,93.97 L452.68,95.42 L452.65,96.87 L452.61,98.33 L452.59,99.78 L452.56,101.24 L452.54,102.69 L452.53,104.15 L452.5,105.6 L452.5,105.6 L452.47,104.15 L452.46,102.69 L452.44,101.24 L452.41,99.78 L452.39,98.33 L452.35,96.87 L452.32,95.42 L452.29,93.97 L452.26,92.51 L452.23,91.06 L452.2,89.6 L452.18,88.15 L452.17,86.69 L452.16,85.24 L452.15,83.79 L452.15,82.33 L452.15,80.88 L452.15,79.42 L452.15,77.97 L452.15,76.51 L452.16,75.06 L452.17,73.61 L452.18,72.15 L452.2,70.7 L452.22,69.24 L452.25,67.79 L452.28,66.33 L452.31,64.88 L452.35,63.43 L452.38,61.97 L452.41,60.52 L452.43,59.06 L452.45,57.61 L452.47,56.15 L452.5,54.7Z" fill="#f73ef7" stroke="#4a4a4a" stroke-width="0.35" stroke-linejoin="round"/>
<path d="M472.8,28 L472.84,29.05 L472.86,30.11 L472.9,31.16 L472.95,32.22 L473.01,33.27 L473.08,34.33 L473.17,35.38 L473.27,36.43 L473.36,37.49 L473.46,38.54 L473.54,39.6 L473.6,40.65 L473.64,41.71 L473.65,42.76 L473.65,43.81 L473.63,44.87 L473.6,45.92 L473.56,46.98 L473.52,48.03 L473.47,49.09 L473.42,50.14 L473.37,51.19 L473.32,52.25 L473.26,53.3 L473.2,54.36 L473.14,55.41 L473.09,56.47 L473.03,57.52 L472.98,58.57 L472.94,59.63 L472.9,60.68 L472.87,61.74 L472.85,62.79 L472.83,63.85 L472.8,64.9 L472.8,64.9 L472.77,63.85 L472.75,62.79 L472.73,61.74 L472.7,60.68 L472.66,59.63 L472.62,58.57 L472.57,57.52 L472.51,56.47 L472.46,55.41 L472.4,54.36 L472.34,53.3 L472.28,52.25 L472.23,51.19 L472.18,50.14 L472.13,49.09 L472.08,48.03 L472.04,46.98 L472,45.92 L471.97,44.87 L471.95,43.81 L471.95,42.76 L471.96,41.71 L472,40.65 L472.06,39.6 L472.14,38.54 L472.24,37.49 L472.33,36.43 L472.43,35.38 L472.52,34.33 L472.59,33.27 L472.65,32.22 L472.7,31.16 L472.74,30.11 L472.76,29.05 L472.8,28Z" fill="#1760e4" stroke="#4a4a4a" stroke-width="0.35" stroke-linejoin="round"/>
<path d="M493.2,11.5 L493.28,12.08 L493.31,12.66 L493.36,13.24 L493.42,13.82 L493.49,14.4 L493.57,14.98 L493.65,15.56 L493.74,16.14 L493.84,16.72 L493.93,17.3 L494.01,17.88 L494.08,18.46 L494.15,19.04 L494.2,19.62 L494.24,20.2 L494.26,20.78 L494.27,21.36 L494.27,21.94 L494.25,22.52 L494.22,23.1 L494.17,23.68 L494.1,24.26 L494.02,24.84 L493.93,25.42 L493.84,26 L493.74,26.58 L493.65,27.16 L493.56,27.74 L493.48,28.32 L493.42,28.9 L493.36,29.48 L493.32,30.06 L493.28,30.64 L493.26,31.22 L493.2,31.8 L493.2,31.8 L493.14,31.22 L493.12,30.64 L493.08,30.06 L493.04,29.48 L492.98,28.9 L492.92,28.32 L492.84,27.74 L492.75,27.16 L492.66,26.58 L492.56,26 L492.47,25.42 L492.38,24.84 L492.3,24.26 L492.23,23.68 L492.18,23.1 L492.15,22.52 L492.13,21.94 L492.13,21.36 L492.14,20.78 L492.16,20.2 L492.2,19.62 L492.25,19.04 L492.32,18.46 L492.39,17.88 L492.47,17.3 L492.56,16.72 L492.66,16.14 L492.75,15.56 L492.83,14.98 L492.91,14.4 L492.98,13.82 L493.04,13.24 L493.09,12.66 L493.12,12.08 L493.2,11.5Z" fill="#12b0ee" stroke="#4a4a4a" stroke-width="0.35" stroke-linejoin="round"/>
<path d="M513.3,146.7 L513.44,146.97 L513.49,147.25 L513.55,147.52 L513.62,147.8 L513.71,148.07 L513.82,148.35 L513.94,148.62 L514.07,148.89 L514.21,149.17 L514.36,149.44 L514.51,149.72 L514.65,149.99 L514.79,150.27 L514.9,150.54 L515,150.81 L515.06,151.09 L515.1,151.36 L515.1,151.64 L515.06,151.91 L515,152.19 L514.9,152.46 L514.79,152.73 L514.65,153.01 L514.51,153.28 L514.36,153.56 L514.21,153.83 L514.07,154.11 L513.94,154.38 L513.82,154.65 L513.71,154.93 L513.62,155.2 L513.55,155.48 L513.49,155.75 L513.44,156.03 L513.3,156.3 L513.3,156.3 L513.16,156.03 L513.11,155.75 L513.05,155.48 L512.98,155.2 L512.89,154.93 L512.78,154.65 L512.66,154.38 L512.53,154.11 L512.39,153.83 L512.24,153.56 L512.09,153.28 L511.95,153.01 L511.81,152.73 L511.7,152.46 L511.6,152.19 L511.54,151.91 L511.5,151.64 L511.5,151.36 L511.54,151.09 L511.6,150.81 L511.7,150.54 L511.81,150.27 L511.95,149.99 L512.09,149.72 L512.24,149.44 L512.39,149.17 L512.53,148.89 L512.66,148.62 L512.78,148.35 L512.89,148.07 L512.98,147.8 L513.05,147.52 L513.11,147.25 L513.16,146.97 L513.3,146.7Z" fill="#10a84a" stroke="#4a4a4a" stroke-width="0.35" stroke-linejoin="round"/>
<path d="M533.5,135.9 L533.6,136.57 L533.67,137.25 L533.77,137.92 L533.9,138.6 L534.06,139.27 L534.26,139.95 L534.47,140.62 L534.68,141.29 L534.87,141.97 L535.03,142.64 L535.13,143.32 L535.16,143.99 L535.14,144.67 L535.07,145.34 L534.97,146.01 L534.86,146.69 L534.76,147.36 L534.66,148.04 L534.58,148.71 L534.51,149.39 L534.44,150.06 L534.36,150.73 L534.28,151.41 L534.2,152.08 L534.1,152.76 L534,153.43 L533.9,154.11 L533.82,154.78 L533.74,155.45 L533.67,156.13 L533.62,156.8 L533.58,157.48 L533.55,158.15 L533.53,158.83 L533.5,159.5 L533.5,159.5 L533.47,158.83 L533.45,158.15 L533.42,157.48 L533.38,156.8 L533.33,156.13 L533.26,155.45 L533.18,154.78 L533.1,154.11 L533,153.43 L532.9,152.76 L532.8,152.08 L532.72,151.41 L532.64,150.73 L532.56,150.06 L532.49,149.39 L532.42,148.71 L532.34,148.04 L532.24,147.36 L532.14,146.69 L532.03,146.01 L531.93,145.34 L531.86,144.67 L531.84,143.99 L531.87,143.32 L531.97,142.64 L532.13,141.97 L532.32,141.29 L532.53,140.62 L532.74,139.95 L532.94,139.27 L533.1,138.6 L533.23,137.92 L533.33,137.25 L533.4,136.57 L533.5,135.9Z" fill="#a6ee12" stroke="#4a4a4a" stroke-width="0.35" stroke-linejoin="round"/>
<path d="M22.4,193.1 V358.3 H269.5" fill="none" stroke="#a4a4a4" stroke-width="1.2"/>
<path d="M21.1,199.3 H22.4" stroke="#a4a4a4" stroke-width="0.5"/>
<text x="20.4" y="200.65" font-size="3.8" text-anchor="end" class="t" style="stroke-width:0.12px">760</text>
<path d="M21.1,239.6 H22.4" stroke="#a4a4a4" stroke-width="0.5"/>
<text x="20.4" y="240.95" font-size="3.8" text-anchor="end" class="t" style="stroke-width:0.12px">720</text>
<path d="M21.1,280 H22.4" stroke="#a4a4a4" stroke-width="0.5"/>
<text x="20.4" y="281.35" font-size="3.8" text-anchor="end" class="t" style="stroke-width:0.12px">680</text>
<path d="M21.1,320.7 H22.4" stroke="#a4a4a4" stroke-width="0.5"/>
<text x="20.4" y="322.05" font-size="3.8" text-anchor="end" class="t" style="stroke-width:0.12px">640</text>
<path d="M34.5,358.3 V359.5" stroke="#a4a4a4" stroke-width="0.5"/>
<path d="M54.75,358.3 V359.5" stroke="#a4a4a4" stroke-width="0.5"/>
<path d="M75,358.3 V359.5" stroke="#a4a4a4" stroke-width="0.5"/>
<path d="M95.25,358.3 V359.5" stroke="#a4a4a4" stroke-width="0.5"/>
<path d="M115.5,358.3 V359.5" stroke="#a4a4a4" stroke-width="0.5"/>
<path d="M135.75,358.3 V359.5" stroke="#a4a4a4" stroke-width="0.5"/>
<path d="M156,358.3 V359.5" stroke="#a4a4a4" stroke-width="0.5"/>
<path d="M176.25,358.3 V359.5" stroke="#a4a4a4" stroke-width="0.5"/>
<path d="M196.5,358.3 V359.5" stroke="#a4a4a4" stroke-width="0.5"/>
<path d="M216.75,358.3 V359.5" stroke="#a4a4a4" stroke-width="0.5"/>
<path d="M237,358.3 V359.5" stroke="#a4a4a4" stroke-width="0.5"/>
<path d="M257.25,358.3 V359.5" stroke="#a4a4a4" stroke-width="0.5"/>
<text x="26.2" y="367.9" font-size="5.0" textLength="15.5" lengthAdjust="spacingAndGlyphs" class="t" style="stroke-width:0.12px">CMT-1.5</text>
<text x="45.4" y="367.9" font-size="5.0" textLength="17.8" lengthAdjust="spacingAndGlyphs" class="t" style="stroke-width:0.12px">CMPT-1.5</text>
<text x="69.1" y="367.9" font-size="5.0" textLength="14.5" lengthAdjust="spacingAndGlyphs" class="t" style="stroke-width:0.12px">SMT-1.5</text>
<text x="88.4" y="367.9" font-size="5.0" textLength="17.4" lengthAdjust="spacingAndGlyphs" class="t" style="stroke-width:0.12px">SMPT-1.5</text>
<text x="110.2" y="367.9" font-size="5.0" textLength="15.7" lengthAdjust="spacingAndGlyphs" class="t" style="stroke-width:0.12px">BMT-1.5</text>
<text x="129.9" y="367.9" font-size="5.0" textLength="17.8" lengthAdjust="spacingAndGlyphs" class="t" style="stroke-width:0.12px">BMPT-1.5</text>
<text x="154.4" y="367.9" font-size="5.0" textLength="12" lengthAdjust="spacingAndGlyphs" class="t" style="stroke-width:0.12px">CMT-3</text>
<text x="172.3" y="367.9" font-size="5.0" textLength="14.2" lengthAdjust="spacingAndGlyphs" class="t" style="stroke-width:0.12px">CMPT-3</text>
<text x="194.1" y="367.9" font-size="5.0" textLength="11.3" lengthAdjust="spacingAndGlyphs" class="t" style="stroke-width:0.12px">SMT-3</text>
<text x="212" y="367.9" font-size="5.0" textLength="13.8" lengthAdjust="spacingAndGlyphs" class="t" style="stroke-width:0.12px">SMPT-3</text>
<text x="236" y="367.9" font-size="5.0" textLength="11.6" lengthAdjust="spacingAndGlyphs" class="t" style="stroke-width:0.12px">BMT-3</text>
<text x="254.2" y="367.9" font-size="5.0" textLength="14.5" lengthAdjust="spacingAndGlyphs" class="t" style="stroke-width:0.12px">BMPT-3</text>
<text x="29" y="202.7" font-size="9.0" class="t" style="stroke-width:0.18px">c.</text>
<text transform="translate(7.1,269.35) rotate(-90)" y="2.4" font-size="7.0" text-anchor="middle" style="stroke-width:0.12px" textLength="63.1" lengthAdjust="spacingAndGlyphs" class="t">Major alcohols (mg/L)</text>
<path d="M34.5,297.4 L34.65,298.94 L34.71,300.47 L34.77,302.01 L34.85,303.55 L34.92,305.09 L35,306.62 L35.08,308.16 L35.17,309.7 L35.25,311.23 L35.34,312.77 L35.41,314.31 L35.46,315.85 L35.49,317.38 L35.49,318.92 L35.47,320.46 L35.43,321.99 L35.38,323.53 L35.33,325.07 L35.29,326.61 L35.24,328.14 L35.2,329.68 L35.15,331.22 L35.09,332.75 L35.03,334.29 L34.96,335.83 L34.89,337.37 L34.82,338.9 L34.75,340.44 L34.69,341.98 L34.64,343.51 L34.6,345.05 L34.56,346.59 L34.54,348.13 L34.52,349.66 L34.5,351.2 L34.5,351.2 L34.48,349.66 L34.46,348.13 L34.44,346.59 L34.4,345.05 L34.36,343.51 L34.31,341.98 L34.25,340.44 L34.18,338.9 L34.11,337.37 L34.04,335.83 L33.97,334.29 L33.91,332.75 L33.85,331.22 L33.8,329.68 L33.76,328.14 L33.71,326.61 L33.67,325.07 L33.62,323.53 L33.57,321.99 L33.53,320.46 L33.51,318.92 L33.51,317.38 L33.54,315.85 L33.59,314.31 L33.66,312.77 L33.75,311.23 L33.83,309.7 L33.92,308.16 L34,306.62 L34.08,305.09 L34.15,303.55 L34.23,302.01 L34.29,300.47 L34.35,298.94 L34.5,297.4Z" fill="#981ca6" stroke="#4a4a4a" stroke-width="0.35" stroke-linejoin="round"/>
<path d="M54.5,308.3 L54.51,308.86 L54.53,309.42 L54.57,309.98 L54.65,310.54 L54.78,311.1 L54.98,311.66 L55.26,312.22 L55.63,312.78 L56.05,313.34 L56.47,313.9 L56.81,314.46 L57.02,315.02 L57.05,315.58 L56.93,316.14 L56.69,316.7 L56.42,317.26 L56.19,317.82 L56.05,318.38 L56.01,318.94 L56.04,319.5 L56.11,320.06 L56.15,320.62 L56.13,321.18 L56.03,321.74 L55.85,322.3 L55.62,322.86 L55.37,323.42 L55.14,323.98 L54.94,324.54 L54.78,325.1 L54.67,325.66 L54.6,326.22 L54.55,326.78 L54.53,327.34 L54.5,327.9 L54.5,327.9 L54.47,327.34 L54.45,326.78 L54.4,326.22 L54.33,325.66 L54.22,325.1 L54.06,324.54 L53.86,323.98 L53.63,323.42 L53.38,322.86 L53.15,322.3 L52.97,321.74 L52.87,321.18 L52.85,320.62 L52.89,320.06 L52.96,319.5 L52.99,318.94 L52.95,318.38 L52.81,317.82 L52.58,317.26 L52.31,316.7 L52.07,316.14 L51.95,315.58 L51.98,315.02 L52.19,314.46 L52.53,313.9 L52.95,313.34 L53.37,312.78 L53.74,312.22 L54.02,311.66 L54.22,311.1 L54.35,310.54 L54.43,309.98 L54.47,309.42 L54.49,308.86 L54.5,308.3Z" fill="#f73ef7" stroke="#4a4a4a" stroke-width="0.35" stroke-linejoin="round"/>
<path d="M74.9,291.5 L75.12,292.73 L75.17,293.96 L75.24,295.19 L75.3,296.41 L75.37,297.64 L75.43,298.87 L75.49,300.1 L75.54,301.33 L75.59,302.56 L75.62,303.79 L75.65,305.01 L75.67,306.24 L75.69,307.47 L75.69,308.7 L75.7,309.93 L75.7,311.16 L75.7,312.39 L75.7,313.61 L75.7,314.84 L75.69,316.07 L75.68,317.3 L75.66,318.53 L75.63,319.76 L75.6,320.99 L75.56,322.21 L75.51,323.44 L75.45,324.67 L75.39,325.9 L75.33,327.13 L75.26,328.36 L75.2,329.59 L75.14,330.81 L75.08,332.04 L75.04,333.27 L74.9,334.5 L74.9,334.5 L74.76,333.27 L74.72,332.04 L74.66,330.81 L74.6,329.59 L74.54,328.36 L74.47,327.13 L74.41,325.9 L74.35,324.67 L74.29,323.44 L74.24,322.21 L74.2,320.99 L74.17,319.76 L74.14,318.53 L74.12,317.3 L74.11,316.07 L74.1,314.84 L74.1,313.61 L74.1,312.39 L74.1,311.16 L74.1,309.93 L74.11,308.7 L74.11,307.47 L74.13,306.24 L74.15,305.01 L74.18,303.79 L74.21,302.56 L74.26,301.33 L74.31,300.1 L74.37,298.87 L74.43,297.64 L74.5,296.41 L74.56,295.19 L74.63,293.96 L74.68,292.73 L74.9,291.5Z" fill="#1760e4" stroke="#4a4a4a" stroke-width="0.35" stroke-linejoin="round"/>
<path d="M95.3,314.1 L95.35,314.79 L95.4,315.47 L95.49,316.16 L95.64,316.84 L95.85,317.53 L96.13,318.21 L96.48,318.9 L96.87,319.59 L97.24,320.27 L97.54,320.96 L97.73,321.64 L97.77,322.33 L97.66,323.01 L97.45,323.7 L97.18,324.39 L96.92,325.07 L96.7,325.76 L96.55,326.44 L96.47,327.13 L96.42,327.81 L96.39,328.5 L96.35,329.19 L96.28,329.87 L96.18,330.56 L96.06,331.24 L95.92,331.93 L95.78,332.61 L95.66,333.3 L95.55,333.99 L95.47,334.67 L95.41,335.36 L95.36,336.04 L95.34,336.73 L95.32,337.41 L95.3,338.1 L95.3,338.1 L95.28,337.41 L95.26,336.73 L95.24,336.04 L95.19,335.36 L95.13,334.67 L95.05,333.99 L94.94,333.3 L94.82,332.61 L94.68,331.93 L94.54,331.24 L94.42,330.56 L94.32,329.87 L94.25,329.19 L94.21,328.5 L94.18,327.81 L94.13,327.13 L94.05,326.44 L93.9,325.76 L93.68,325.07 L93.42,324.39 L93.15,323.7 L92.94,323.01 L92.83,322.33 L92.87,321.64 L93.06,320.96 L93.36,320.27 L93.73,319.59 L94.12,318.9 L94.47,318.21 L94.75,317.53 L94.96,316.84 L95.11,316.16 L95.2,315.47 L95.25,314.79 L95.3,314.1Z" fill="#12b0ee" stroke="#4a4a4a" stroke-width="0.35" stroke-linejoin="round"/>
<path d="M115.5,230.2 L115.73,232.01 L115.79,233.82 L115.86,235.63 L115.94,237.45 L116.01,239.26 L116.09,241.07 L116.18,242.88 L116.29,244.69 L116.4,246.5 L116.5,248.31 L116.54,250.13 L116.51,251.94 L116.44,253.75 L116.36,255.56 L116.3,257.37 L116.27,259.18 L116.25,260.99 L116.23,262.81 L116.21,264.62 L116.18,266.43 L116.14,268.24 L116.09,270.05 L116.03,271.86 L115.97,273.67 L115.9,275.49 L115.83,277.3 L115.76,279.11 L115.7,280.92 L115.65,282.73 L115.6,284.54 L115.57,286.35 L115.54,288.17 L115.53,289.98 L115.51,291.79 L115.5,293.6 L115.5,293.6 L115.49,291.79 L115.47,289.98 L115.46,288.17 L115.43,286.35 L115.4,284.54 L115.35,282.73 L115.3,280.92 L115.24,279.11 L115.17,277.3 L115.1,275.49 L115.03,273.67 L114.97,271.86 L114.91,270.05 L114.86,268.24 L114.82,266.43 L114.79,264.62 L114.77,262.81 L114.75,260.99 L114.73,259.18 L114.7,257.37 L114.64,255.56 L114.56,253.75 L114.49,251.94 L114.46,250.13 L114.5,248.31 L114.6,246.5 L114.71,244.69 L114.82,242.88 L114.91,241.07 L114.99,239.26 L115.06,237.45 L115.14,235.63 L115.21,233.82 L115.27,232.01 L115.5,230.2Z" fill="#10a84a" stroke="#4a4a4a" stroke-width="0.35" stroke-linejoin="round"/>
<path d="M135.5,251.3 L135.54,252.8 L135.56,254.3 L135.59,255.8 L135.63,257.3 L135.68,258.8 L135.74,260.3 L135.81,261.8 L135.88,263.3 L135.95,264.8 L136.01,266.3 L136.07,267.8 L136.13,269.3 L136.17,270.8 L136.21,272.3 L136.24,273.8 L136.27,275.3 L136.31,276.8 L136.36,278.3 L136.42,279.8 L136.49,281.3 L136.53,282.8 L136.54,284.3 L136.5,285.8 L136.42,287.3 L136.32,288.8 L136.22,290.3 L136.13,291.8 L136.05,293.3 L135.97,294.8 L135.9,296.3 L135.83,297.8 L135.76,299.3 L135.7,300.8 L135.65,302.3 L135.5,303.8 L135.5,303.8 L135.35,302.3 L135.3,300.8 L135.24,299.3 L135.17,297.8 L135.1,296.3 L135.03,294.8 L134.95,293.3 L134.87,291.8 L134.78,290.3 L134.68,288.8 L134.58,287.3 L134.5,285.8 L134.46,284.3 L134.47,282.8 L134.51,281.3 L134.58,279.8 L134.64,278.3 L134.69,276.8 L134.73,275.3 L134.76,273.8 L134.79,272.3 L134.83,270.8 L134.87,269.3 L134.93,267.8 L134.99,266.3 L135.05,264.8 L135.12,263.3 L135.19,261.8 L135.26,260.3 L135.32,258.8 L135.37,257.3 L135.41,255.8 L135.44,254.3 L135.46,252.8 L135.5,251.3Z" fill="#a6ee12" stroke="#4a4a4a" stroke-width="0.35" stroke-linejoin="round"/>
<path d="M155.9,276.7 L155.98,276.86 L156.05,277.02 L156.2,277.18 L156.51,277.34 L157.07,277.5 L157.98,277.66 L159.27,277.82 L160.8,277.98 L162.3,278.14 L163.36,278.3 L163.7,278.46 L163.28,278.62 L162.31,278.78 L161.16,278.94 L160.13,279.1 L159.4,279.26 L158.96,279.42 L158.71,279.58 L158.55,279.74 L158.41,279.9 L158.25,280.06 L158.05,280.22 L157.82,280.38 L157.57,280.54 L157.32,280.7 L157.08,280.86 L156.85,281.02 L156.65,281.18 L156.47,281.34 L156.33,281.5 L156.21,281.66 L156.12,281.82 L156.05,281.98 L156,282.14 L155.9,282.3 L155.9,282.3 L155.8,282.14 L155.75,281.98 L155.68,281.82 L155.59,281.66 L155.47,281.5 L155.33,281.34 L155.15,281.18 L154.95,281.02 L154.72,280.86 L154.48,280.7 L154.23,280.54 L153.98,280.38 L153.75,280.22 L153.55,280.06 L153.39,279.9 L153.25,279.74 L153.09,279.58 L152.84,279.42 L152.4,279.26 L151.67,279.1 L150.64,278.94 L149.49,278.78 L148.52,278.62 L148.1,278.46 L148.44,278.3 L149.5,278.14 L151,277.98 L152.53,277.82 L153.82,277.66 L154.73,277.5 L155.29,277.34 L155.6,277.18 L155.75,277.02 L155.82,276.86 L155.9,276.7Z" fill="#981ca6" stroke="#4a4a4a" stroke-width="0.35" stroke-linejoin="round"/>
<path d="M176.2,279.5 L176.47,280.01 L176.61,280.53 L176.77,281.04 L176.98,281.56 L177.22,282.07 L177.48,282.59 L177.74,283.1 L177.99,283.61 L178.21,284.13 L178.38,284.64 L178.5,285.16 L178.58,285.67 L178.61,286.19 L178.62,286.7 L178.63,287.21 L178.63,287.73 L178.62,288.24 L178.61,288.76 L178.58,289.27 L178.51,289.79 L178.4,290.3 L178.23,290.81 L178.02,291.33 L177.77,291.84 L177.51,292.36 L177.25,292.87 L177.01,293.39 L176.8,293.9 L176.62,294.41 L176.49,294.93 L176.39,295.44 L176.32,295.96 L176.27,296.47 L176.24,296.99 L176.2,297.5 L176.2,297.5 L176.16,296.99 L176.13,296.47 L176.08,295.96 L176.01,295.44 L175.91,294.93 L175.78,294.41 L175.6,293.9 L175.39,293.39 L175.15,292.87 L174.89,292.36 L174.63,291.84 L174.38,291.33 L174.17,290.81 L174,290.3 L173.89,289.79 L173.82,289.27 L173.79,288.76 L173.78,288.24 L173.77,287.73 L173.77,287.21 L173.78,286.7 L173.79,286.19 L173.82,285.67 L173.9,285.16 L174.02,284.64 L174.19,284.13 L174.41,283.61 L174.66,283.1 L174.92,282.59 L175.18,282.07 L175.42,281.56 L175.63,281.04 L175.79,280.53 L175.93,280.01 L176.2,279.5Z" fill="#f73ef7" stroke="#4a4a4a" stroke-width="0.35" stroke-linejoin="round"/>
<path d="M196.4,275 L196.43,275.55 L196.46,276.11 L196.52,276.66 L196.61,277.22 L196.75,277.77 L196.95,278.33 L197.2,278.88 L197.51,279.43 L197.85,279.99 L198.17,280.54 L198.43,281.1 L198.59,281.65 L198.62,282.21 L198.54,282.76 L198.36,283.31 L198.15,283.87 L197.96,284.42 L197.84,284.98 L197.81,285.53 L197.89,286.09 L198.04,286.64 L198.21,287.19 L198.36,287.75 L198.43,288.3 L198.39,288.86 L198.24,289.41 L198.01,289.97 L197.71,290.52 L197.41,291.07 L197.13,291.63 L196.89,292.18 L196.71,292.74 L196.59,293.29 L196.5,293.85 L196.4,294.4 L196.4,294.4 L196.3,293.85 L196.21,293.29 L196.09,292.74 L195.91,292.18 L195.67,291.63 L195.39,291.07 L195.09,290.52 L194.79,289.97 L194.56,289.41 L194.41,288.86 L194.37,288.3 L194.44,287.75 L194.59,287.19 L194.76,286.64 L194.91,286.09 L194.99,285.53 L194.96,284.98 L194.84,284.42 L194.65,283.87 L194.44,283.31 L194.26,282.76 L194.18,282.21 L194.21,281.65 L194.37,281.1 L194.63,280.54 L194.95,279.99 L195.29,279.43 L195.6,278.88 L195.85,278.33 L196.05,277.77 L196.19,277.22 L196.28,276.66 L196.34,276.11 L196.37,275.55 L196.4,275Z" fill="#1760e4" stroke="#4a4a4a" stroke-width="0.35" stroke-linejoin="round"/>
<path d="M216.4,290.2 L216.51,291.34 L216.56,292.49 L216.61,293.63 L216.67,294.77 L216.74,295.91 L216.81,297.06 L216.88,298.2 L216.96,299.34 L217.04,300.49 L217.11,301.63 L217.19,302.77 L217.25,303.91 L217.3,305.06 L217.33,306.2 L217.35,307.34 L217.34,308.49 L217.31,309.63 L217.28,310.77 L217.24,311.91 L217.21,313.06 L217.17,314.2 L217.14,315.34 L217.11,316.49 L217.07,317.63 L217.02,318.77 L216.97,319.91 L216.91,321.06 L216.84,322.2 L216.78,323.34 L216.71,324.49 L216.65,325.63 L216.59,326.77 L216.54,327.91 L216.5,329.06 L216.4,330.2 L216.4,330.2 L216.3,329.06 L216.26,327.91 L216.21,326.77 L216.15,325.63 L216.09,324.49 L216.02,323.34 L215.96,322.2 L215.89,321.06 L215.83,319.91 L215.78,318.77 L215.73,317.63 L215.69,316.49 L215.66,315.34 L215.63,314.2 L215.59,313.06 L215.56,311.91 L215.52,310.77 L215.49,309.63 L215.46,308.49 L215.45,307.34 L215.47,306.2 L215.5,305.06 L215.55,303.91 L215.61,302.77 L215.69,301.63 L215.76,300.49 L215.84,299.34 L215.92,298.2 L215.99,297.06 L216.06,295.91 L216.13,294.77 L216.19,293.63 L216.24,292.49 L216.29,291.34 L216.4,290.2Z" fill="#12b0ee" stroke="#4a4a4a" stroke-width="0.35" stroke-linejoin="round"/>
<path d="M236.8,200.7 L237.05,202.14 L237.12,203.59 L237.19,205.03 L237.26,206.47 L237.34,207.91 L237.42,209.36 L237.5,210.8 L237.59,212.24 L237.67,213.69 L237.76,215.13 L237.82,216.57 L237.84,218.01 L237.83,219.46 L237.79,220.9 L237.74,222.34 L237.69,223.79 L237.64,225.23 L237.61,226.67 L237.58,228.11 L237.55,229.56 L237.52,231 L237.48,232.44 L237.42,233.89 L237.36,235.33 L237.3,236.77 L237.23,238.21 L237.15,239.66 L237.08,241.1 L237.02,242.54 L236.97,243.99 L236.92,245.43 L236.88,246.87 L236.85,248.31 L236.83,249.76 L236.8,251.2 L236.8,251.2 L236.77,249.76 L236.75,248.31 L236.72,246.87 L236.68,245.43 L236.63,243.99 L236.58,242.54 L236.52,241.1 L236.45,239.66 L236.37,238.21 L236.3,236.77 L236.24,235.33 L236.18,233.89 L236.12,232.44 L236.08,231 L236.05,229.56 L236.02,228.11 L235.99,226.67 L235.96,225.23 L235.91,223.79 L235.86,222.34 L235.81,220.9 L235.77,219.46 L235.76,218.01 L235.78,216.57 L235.84,215.13 L235.93,213.69 L236.01,212.24 L236.1,210.8 L236.18,209.36 L236.26,207.91 L236.34,206.47 L236.41,205.03 L236.48,203.59 L236.55,202.14 L236.8,200.7Z" fill="#10a84a" stroke="#4a4a4a" stroke-width="0.35" stroke-linejoin="round"/>
<path d="M257,216.9 L257.03,218.53 L257.05,220.16 L257.08,221.79 L257.12,223.43 L257.17,225.06 L257.23,226.69 L257.3,228.32 L257.37,229.95 L257.44,231.58 L257.51,233.21 L257.57,234.85 L257.62,236.48 L257.67,238.11 L257.71,239.74 L257.75,241.37 L257.79,243 L257.85,244.63 L257.91,246.27 L257.97,247.9 L258,249.53 L257.99,251.16 L257.94,252.79 L257.86,254.42 L257.78,256.05 L257.71,257.69 L257.64,259.32 L257.58,260.95 L257.52,262.58 L257.45,264.21 L257.37,265.84 L257.3,267.47 L257.24,269.11 L257.18,270.74 L257.13,272.37 L257,274 L257,274 L256.87,272.37 L256.82,270.74 L256.76,269.11 L256.7,267.47 L256.63,265.84 L256.55,264.21 L256.48,262.58 L256.42,260.95 L256.36,259.32 L256.29,257.69 L256.22,256.05 L256.14,254.42 L256.06,252.79 L256.01,251.16 L256,249.53 L256.03,247.9 L256.09,246.27 L256.15,244.63 L256.21,243 L256.25,241.37 L256.29,239.74 L256.33,238.11 L256.38,236.48 L256.43,234.85 L256.49,233.21 L256.56,231.58 L256.63,229.95 L256.7,228.32 L256.77,226.69 L256.83,225.06 L256.88,223.43 L256.92,221.79 L256.95,220.16 L256.97,218.53 L257,216.9Z" fill="#a6ee12" stroke="#4a4a4a" stroke-width="0.35" stroke-linejoin="round"/>
<path d="M298.6,193.3 V358 H544.9" fill="none" stroke="#a4a4a4" stroke-width="1.2"/>
<path d="M297.3,193.5 H298.6" stroke="#a4a4a4" stroke-width="0.5"/>
<text x="297" y="194.6" font-size="3.95" text-anchor="end" class="t" style="stroke-width:0.12px">4500</text>
<path d="M297.3,220.5 H298.6" stroke="#a4a4a4" stroke-width="0.5"/>
<text x="297" y="221.6" font-size="3.95" text-anchor="end" class="t" style="stroke-width:0.12px">4000</text>
<path d="M297.3,248.4 H298.6" stroke="#a4a4a4" stroke-width="0.5"/>
<text x="297" y="249.5" font-size="3.95" text-anchor="end" class="t" style="stroke-width:0.12px">3500</text>
<path d="M297.3,275.8 H298.6" stroke="#a4a4a4" stroke-width="0.5"/>
<text x="297" y="276.9" font-size="3.95" text-anchor="end" class="t" style="stroke-width:0.12px">3000</text>
<path d="M297.3,303.3 H298.6" stroke="#a4a4a4" stroke-width="0.5"/>
<text x="297" y="304.4" font-size="3.95" text-anchor="end" class="t" style="stroke-width:0.12px">2500</text>
<path d="M297.3,331.3 H298.6" stroke="#a4a4a4" stroke-width="0.5"/>
<text x="297" y="332.4" font-size="3.95" text-anchor="end" class="t" style="stroke-width:0.12px">2000</text>
<path d="M310.7,358 V359.2" stroke="#a4a4a4" stroke-width="0.5"/>
<path d="M330.9,358 V359.2" stroke="#a4a4a4" stroke-width="0.5"/>
<path d="M351.1,358 V359.2" stroke="#a4a4a4" stroke-width="0.5"/>
<path d="M371.3,358 V359.2" stroke="#a4a4a4" stroke-width="0.5"/>
<path d="M391.5,358 V359.2" stroke="#a4a4a4" stroke-width="0.5"/>
<path d="M411.7,358 V359.2" stroke="#a4a4a4" stroke-width="0.5"/>
<path d="M431.9,358 V359.2" stroke="#a4a4a4" stroke-width="0.5"/>
<path d="M452.1,358 V359.2" stroke="#a4a4a4" stroke-width="0.5"/>
<path d="M472.3,358 V359.2" stroke="#a4a4a4" stroke-width="0.5"/>
<path d="M492.5,358 V359.2" stroke="#a4a4a4" stroke-width="0.5"/>
<path d="M512.7,358 V359.2" stroke="#a4a4a4" stroke-width="0.5"/>
<path d="M532.9,358 V359.2" stroke="#a4a4a4" stroke-width="0.5"/>
<text x="303.4" y="367.5" font-size="5.0" textLength="15.2" lengthAdjust="spacingAndGlyphs" class="t" style="stroke-width:0.12px">CMT-1.5</text>
<text x="323" y="367.5" font-size="5.0" textLength="17.4" lengthAdjust="spacingAndGlyphs" class="t" style="stroke-width:0.12px">CMPT-1.5</text>
<text x="346.3" y="367.5" font-size="5.0" textLength="14.5" lengthAdjust="spacingAndGlyphs" class="t" style="stroke-width:0.12px">SMT-1.5</text>
<text x="365.5" y="367.5" font-size="5.0" textLength="17.1" lengthAdjust="spacingAndGlyphs" class="t" style="stroke-width:0.12px">SMPT-1.5</text>
<text x="387.3" y="367.5" font-size="5.0" textLength="15.2" lengthAdjust="spacingAndGlyphs" class="t" style="stroke-width:0.12px">BMT-1.5</text>
<text x="406.9" y="367.5" font-size="5.0" textLength="17.4" lengthAdjust="spacingAndGlyphs" class="t" style="stroke-width:0.12px">BMPT-1.5</text>
<text x="431.5" y="367.5" font-size="5.0" textLength="12" lengthAdjust="spacingAndGlyphs" class="t" style="stroke-width:0.12px">CMT-3</text>
<text x="449.4" y="367.5" font-size="5.0" textLength="14.5" lengthAdjust="spacingAndGlyphs" class="t" style="stroke-width:0.12px">CMPT-3</text>
<text x="468.7" y="367.5" font-size="5.0" textLength="11.2" lengthAdjust="spacingAndGlyphs" class="t" style="stroke-width:0.12px">SMT-3</text>
<text x="488" y="367.5" font-size="5.0" textLength="13.8" lengthAdjust="spacingAndGlyphs" class="t" style="stroke-width:0.12px">SMPT-3</text>
<text x="510.4" y="367.5" font-size="5.0" textLength="11.9" lengthAdjust="spacingAndGlyphs" class="t" style="stroke-width:0.12px">BMT-3</text>
<text x="528.3" y="367.5" font-size="5.0" textLength="14.3" lengthAdjust="spacingAndGlyphs" class="t" style="stroke-width:0.12px">BMPT-3</text>
<text x="308.9" y="202.9" font-size="9.0" class="t" style="stroke-width:0.05px">d.</text>
<text transform="translate(282.2,270.15) rotate(-90)" y="2.4" font-size="7.0" text-anchor="middle" style="stroke-width:0.12px" textLength="61.5" lengthAdjust="spacingAndGlyphs" class="t">Minor alcohols (μg/L)</text>
<path d="M310.9,289.7 L310.94,290.21 L311,290.72 L311.11,291.23 L311.32,291.75 L311.68,292.26 L312.24,292.77 L312.99,293.28 L313.86,293.79 L314.71,294.3 L315.36,294.81 L315.67,295.33 L315.56,295.84 L315.11,296.35 L314.47,296.86 L313.81,297.37 L313.28,297.88 L312.96,298.39 L312.91,298.91 L313.21,299.42 L314.02,299.93 L315.44,300.44 L317.34,300.95 L319.14,301.46 L320.06,301.97 L319.67,302.49 L318.24,303 L316.46,303.51 L314.9,304.02 L313.77,304.53 L312.96,305.04 L312.37,305.55 L311.91,306.07 L311.56,306.58 L311.3,307.09 L310.9,307.6 L310.9,307.6 L310.5,307.09 L310.24,306.58 L309.89,306.07 L309.43,305.55 L308.84,305.04 L308.03,304.53 L306.9,304.02 L305.34,303.51 L303.56,303 L302.13,302.49 L301.74,301.97 L302.66,301.46 L304.46,300.95 L306.36,300.44 L307.78,299.93 L308.59,299.42 L308.89,298.91 L308.84,298.39 L308.52,297.88 L307.99,297.37 L307.33,296.86 L306.69,296.35 L306.24,295.84 L306.13,295.33 L306.44,294.81 L307.09,294.3 L307.94,293.79 L308.81,293.28 L309.56,292.77 L310.12,292.26 L310.48,291.75 L310.69,291.23 L310.8,290.72 L310.86,290.21 L310.9,289.7Z" fill="#981ca6" stroke="#4a4a4a" stroke-width="0.35" stroke-linejoin="round"/>
<path d="M331.2,324.9 L331.26,325.63 L331.32,326.36 L331.43,327.09 L331.6,327.81 L331.85,328.54 L332.19,329.27 L332.61,330 L333.09,330.73 L333.61,331.46 L334.12,332.19 L334.59,332.91 L335,333.64 L335.32,334.37 L335.55,335.1 L335.69,335.83 L335.77,336.56 L335.8,337.29 L335.8,338.01 L335.8,338.74 L335.77,339.47 L335.69,340.2 L335.54,340.93 L335.31,341.66 L334.98,342.39 L334.58,343.11 L334.1,343.84 L333.58,344.57 L333.07,345.3 L332.59,346.03 L332.17,346.76 L331.84,347.49 L331.59,348.21 L331.42,348.94 L331.32,349.67 L331.2,350.4 L331.2,350.4 L331.08,349.67 L330.98,348.94 L330.81,348.21 L330.56,347.49 L330.23,346.76 L329.81,346.03 L329.33,345.3 L328.82,344.57 L328.3,343.84 L327.82,343.11 L327.42,342.39 L327.09,341.66 L326.86,340.93 L326.71,340.2 L326.63,339.47 L326.6,338.74 L326.6,338.01 L326.6,337.29 L326.63,336.56 L326.71,335.83 L326.85,335.1 L327.08,334.37 L327.4,333.64 L327.81,332.91 L328.28,332.19 L328.79,331.46 L329.31,330.73 L329.79,330 L330.21,329.27 L330.55,328.54 L330.8,327.81 L330.97,327.09 L331.08,326.36 L331.14,325.63 L331.2,324.9Z" fill="#f73ef7" stroke="#4a4a4a" stroke-width="0.35" stroke-linejoin="round"/>
<path d="M351.3,285.1 L351.36,286.44 L351.43,287.79 L351.57,289.13 L351.8,290.47 L352.11,291.81 L352.5,293.16 L352.88,294.5 L353.17,295.84 L353.3,297.19 L353.25,298.53 L353.05,299.87 L352.77,301.21 L352.5,302.56 L352.29,303.9 L352.19,305.24 L352.23,306.59 L352.45,307.93 L352.89,309.27 L353.5,310.61 L354.16,311.96 L354.73,313.3 L355.06,314.64 L355.14,315.99 L355.08,317.33 L354.84,318.67 L354.35,320.01 L353.65,321.36 L352.88,322.7 L352.22,324.04 L351.75,325.39 L351.49,326.73 L351.36,328.07 L351.32,329.41 L351.3,330.76 L351.3,332.1 L351.3,332.1 L351.3,330.76 L351.28,329.41 L351.24,328.07 L351.11,326.73 L350.85,325.39 L350.38,324.04 L349.72,322.7 L348.95,321.36 L348.25,320.01 L347.76,318.67 L347.52,317.33 L347.46,315.99 L347.54,314.64 L347.87,313.3 L348.44,311.96 L349.1,310.61 L349.71,309.27 L350.15,307.93 L350.37,306.59 L350.41,305.24 L350.31,303.9 L350.1,302.56 L349.83,301.21 L349.55,299.87 L349.35,298.53 L349.3,297.19 L349.43,295.84 L349.72,294.5 L350.1,293.16 L350.49,291.81 L350.8,290.47 L351.03,289.13 L351.17,287.79 L351.24,286.44 L351.3,285.1Z" fill="#1760e4" stroke="#4a4a4a" stroke-width="0.35" stroke-linejoin="round"/>
<path d="M371.4,305 L371.43,305.84 L371.48,306.69 L371.57,307.53 L371.74,308.37 L372,309.21 L372.38,310.06 L372.88,310.9 L373.47,311.74 L374.1,312.59 L374.69,313.43 L375.2,314.27 L375.59,315.11 L375.84,315.96 L376,316.8 L376.11,317.64 L376.15,318.49 L376.06,319.33 L375.84,320.17 L375.49,321.01 L375.05,321.86 L374.57,322.7 L374.09,323.54 L373.66,324.39 L373.28,325.23 L372.95,326.07 L372.67,326.91 L372.42,327.76 L372.2,328.6 L372,329.44 L371.84,330.29 L371.71,331.13 L371.61,331.97 L371.53,332.81 L371.48,333.66 L371.4,334.5 L371.4,334.5 L371.32,333.66 L371.27,332.81 L371.19,331.97 L371.09,331.13 L370.96,330.29 L370.8,329.44 L370.6,328.6 L370.38,327.76 L370.13,326.91 L369.85,326.07 L369.52,325.23 L369.14,324.39 L368.71,323.54 L368.23,322.7 L367.75,321.86 L367.31,321.01 L366.96,320.17 L366.74,319.33 L366.65,318.49 L366.69,317.64 L366.8,316.8 L366.96,315.96 L367.21,315.11 L367.6,314.27 L368.11,313.43 L368.7,312.59 L369.33,311.74 L369.92,310.9 L370.42,310.06 L370.8,309.21 L371.06,308.37 L371.23,307.53 L371.32,306.69 L371.37,305.84 L371.4,305Z" fill="#12b0ee" stroke="#4a4a4a" stroke-width="0.35" stroke-linejoin="round"/>
<path d="M391.6,317.5 L391.64,318.26 L391.69,319.01 L391.81,319.77 L392.05,320.53 L392.46,321.29 L393.1,322.04 L394,322.8 L395.11,323.56 L396.27,324.31 L397.27,325.07 L397.89,325.83 L397.96,326.59 L397.47,327.34 L396.54,328.1 L395.41,328.86 L394.31,329.61 L393.43,330.37 L392.88,331.13 L392.7,331.89 L392.87,332.64 L393.34,333.4 L393.98,334.16 L394.62,334.91 L395.07,335.67 L395.2,336.43 L394.94,337.19 L394.39,337.94 L393.69,338.7 L393,339.46 L392.45,340.21 L392.06,340.97 L391.82,341.73 L391.7,342.49 L391.64,343.24 L391.6,344 L391.6,344 L391.56,343.24 L391.5,342.49 L391.38,341.73 L391.14,340.97 L390.75,340.21 L390.2,339.46 L389.51,338.7 L388.81,337.94 L388.26,337.19 L388,336.43 L388.13,335.67 L388.58,334.91 L389.22,334.16 L389.86,333.4 L390.33,332.64 L390.5,331.89 L390.32,331.13 L389.77,330.37 L388.89,329.61 L387.79,328.86 L386.66,328.1 L385.73,327.34 L385.24,326.59 L385.31,325.83 L385.93,325.07 L386.93,324.31 L388.09,323.56 L389.2,322.8 L390.1,322.04 L390.74,321.29 L391.15,320.53 L391.39,319.77 L391.51,319.01 L391.56,318.26 L391.6,317.5Z" fill="#10a84a" stroke="#4a4a4a" stroke-width="0.35" stroke-linejoin="round"/>
<path d="M412,324.8 L412.41,325.45 L412.67,326.1 L413.04,326.75 L413.5,327.41 L414.05,328.06 L414.65,328.71 L415.27,329.36 L415.86,330.01 L416.38,330.66 L416.82,331.31 L417.15,331.97 L417.38,332.62 L417.51,333.27 L417.58,333.92 L417.6,334.57 L417.6,335.22 L417.59,335.87 L417.54,336.53 L417.43,337.18 L417.23,337.83 L416.93,338.48 L416.53,339.13 L416.03,339.78 L415.46,340.43 L414.84,341.09 L414.23,341.74 L413.67,342.39 L413.17,343.04 L412.78,343.69 L412.48,344.34 L412.28,344.99 L412.15,345.65 L412.07,346.3 L412.03,346.95 L412,347.6 L412,347.6 L411.97,346.95 L411.93,346.3 L411.85,345.65 L411.72,344.99 L411.52,344.34 L411.22,343.69 L410.83,343.04 L410.33,342.39 L409.77,341.74 L409.16,341.09 L408.54,340.43 L407.97,339.78 L407.47,339.13 L407.07,338.48 L406.77,337.83 L406.57,337.18 L406.46,336.53 L406.41,335.87 L406.4,335.22 L406.4,334.57 L406.42,333.92 L406.49,333.27 L406.62,332.62 L406.85,331.97 L407.18,331.31 L407.62,330.66 L408.14,330.01 L408.73,329.36 L409.35,328.71 L409.95,328.06 L410.5,327.41 L410.96,326.75 L411.33,326.1 L411.59,325.45 L412,324.8Z" fill="#a6ee12" stroke="#4a4a4a" stroke-width="0.35" stroke-linejoin="round"/>
<path d="M432,286.7 L432,287.8 L432,288.91 L432.02,290.01 L432.06,291.11 L432.16,292.21 L432.36,293.32 L432.7,294.42 L433.2,295.52 L433.8,296.63 L434.41,297.73 L434.91,298.83 L435.24,299.93 L435.39,301.04 L435.46,302.14 L435.44,303.24 L435.26,304.35 L434.96,305.45 L434.61,306.55 L434.3,307.65 L434.1,308.76 L434.01,309.86 L433.98,310.96 L433.95,312.07 L433.85,313.17 L433.68,314.27 L433.44,315.37 L433.16,316.48 L432.88,317.58 L432.63,318.68 L432.43,319.79 L432.27,320.89 L432.16,321.99 L432.09,323.09 L432.05,324.2 L432,325.3 L432,325.3 L431.95,324.2 L431.91,323.09 L431.84,321.99 L431.73,320.89 L431.57,319.79 L431.37,318.68 L431.12,317.58 L430.84,316.48 L430.56,315.37 L430.32,314.27 L430.15,313.17 L430.05,312.07 L430.02,310.96 L429.99,309.86 L429.9,308.76 L429.7,307.65 L429.39,306.55 L429.04,305.45 L428.74,304.35 L428.56,303.24 L428.54,302.14 L428.61,301.04 L428.76,299.93 L429.09,298.83 L429.59,297.73 L430.2,296.63 L430.8,295.52 L431.3,294.42 L431.64,293.32 L431.84,292.21 L431.94,291.11 L431.98,290.01 L432,288.91 L432,287.8 L432,286.7Z" fill="#981ca6" stroke="#4a4a4a" stroke-width="0.35" stroke-linejoin="round"/>
<path d="M452,302.7 L452,303.8 L452,304.91 L452.01,306.01 L452.05,307.11 L452.15,308.21 L452.38,309.32 L452.79,310.42 L453.39,311.52 L454.08,312.63 L454.7,313.73 L455.13,314.83 L455.3,315.93 L455.33,317.04 L455.22,318.14 L454.92,319.24 L454.49,320.35 L454.09,321.45 L453.88,322.55 L453.91,323.65 L454.11,324.76 L454.33,325.86 L454.41,326.96 L454.29,328.07 L453.98,329.17 L453.55,330.27 L453.1,331.37 L452.71,332.48 L452.41,333.58 L452.22,334.68 L452.1,335.79 L452.04,336.89 L452.02,337.99 L452.01,339.09 L452,340.2 L452,341.3 L452,341.3 L452,340.2 L451.99,339.09 L451.98,337.99 L451.96,336.89 L451.9,335.79 L451.78,334.68 L451.59,333.58 L451.29,332.48 L450.9,331.37 L450.45,330.27 L450.02,329.17 L449.71,328.07 L449.59,326.96 L449.67,325.86 L449.89,324.76 L450.09,323.65 L450.12,322.55 L449.91,321.45 L449.51,320.35 L449.08,319.24 L448.78,318.14 L448.67,317.04 L448.7,315.93 L448.87,314.83 L449.3,313.73 L449.92,312.63 L450.61,311.52 L451.21,310.42 L451.62,309.32 L451.85,308.21 L451.95,307.11 L451.99,306.01 L452,304.91 L452,303.8 L452,302.7Z" fill="#f73ef7" stroke="#4a4a4a" stroke-width="0.35" stroke-linejoin="round"/>
<path d="M472.4,275.2 L472.44,275.75 L472.5,276.29 L472.63,276.84 L472.87,277.38 L473.27,277.93 L473.85,278.47 L474.57,279.02 L475.34,279.57 L475.99,280.11 L476.36,280.66 L476.34,281.2 L475.94,281.75 L475.27,282.29 L474.52,282.84 L473.88,283.39 L473.47,283.93 L473.41,284.48 L473.75,285.02 L474.54,285.57 L475.76,286.11 L477.27,286.66 L478.81,287.21 L480.03,287.75 L480.59,288.3 L480.33,288.84 L479.32,289.39 L477.86,289.93 L476.28,290.48 L474.89,291.03 L473.84,291.57 L473.15,292.12 L472.75,292.66 L472.55,293.21 L472.46,293.75 L472.4,294.3 L472.4,294.3 L472.34,293.75 L472.25,293.21 L472.05,292.66 L471.65,292.12 L470.96,291.57 L469.91,291.03 L468.52,290.48 L466.94,289.93 L465.48,289.39 L464.47,288.84 L464.21,288.3 L464.77,287.75 L465.99,287.21 L467.53,286.66 L469.04,286.11 L470.26,285.57 L471.05,285.02 L471.39,284.48 L471.33,283.93 L470.92,283.39 L470.28,282.84 L469.53,282.29 L468.86,281.75 L468.46,281.2 L468.44,280.66 L468.81,280.11 L469.46,279.57 L470.23,279.02 L470.95,278.47 L471.53,277.93 L471.93,277.38 L472.17,276.84 L472.3,276.29 L472.36,275.75 L472.4,275.2Z" fill="#1760e4" stroke="#4a4a4a" stroke-width="0.35" stroke-linejoin="round"/>
<path d="M492.4,246.6 L492.54,247.75 L492.66,248.9 L492.84,250.05 L493.1,251.19 L493.42,252.34 L493.77,253.49 L494.1,254.64 L494.35,255.79 L494.47,256.94 L494.44,258.09 L494.29,259.23 L494.06,260.38 L493.8,261.53 L493.56,262.68 L493.37,263.83 L493.25,264.98 L493.21,266.13 L493.32,267.27 L493.62,268.42 L494.18,269.57 L494.97,270.72 L495.86,271.87 L496.63,273.02 L497.01,274.17 L496.88,275.31 L496.26,276.46 L495.35,277.61 L494.4,278.76 L493.6,279.91 L493.04,281.06 L492.7,282.21 L492.53,283.35 L492.45,284.5 L492.42,285.65 L492.4,286.8 L492.4,286.8 L492.38,285.65 L492.35,284.5 L492.27,283.35 L492.1,282.21 L491.76,281.06 L491.2,279.91 L490.4,278.76 L489.45,277.61 L488.54,276.46 L487.92,275.31 L487.79,274.17 L488.17,273.02 L488.94,271.87 L489.83,270.72 L490.62,269.57 L491.18,268.42 L491.48,267.27 L491.59,266.13 L491.55,264.98 L491.43,263.83 L491.24,262.68 L491,261.53 L490.74,260.38 L490.51,259.23 L490.36,258.09 L490.33,256.94 L490.45,255.79 L490.7,254.64 L491.03,253.49 L491.38,252.34 L491.7,251.19 L491.96,250.05 L492.14,248.9 L492.26,247.75 L492.4,246.6Z" fill="#12b0ee" stroke="#4a4a4a" stroke-width="0.35" stroke-linejoin="round"/>
<path d="M512.4,232 L512.41,233.51 L512.43,235.01 L512.47,236.52 L512.54,238.02 L512.65,239.53 L512.83,241.03 L513.07,242.54 L513.37,244.05 L513.71,245.55 L514.05,247.06 L514.37,248.56 L514.64,250.07 L514.84,251.57 L514.98,253.08 L515.06,254.59 L515.09,256.09 L515.1,257.6 L515.1,259.1 L515.08,260.61 L515.03,262.11 L514.93,263.62 L514.76,265.13 L514.52,266.63 L514.23,268.14 L513.89,269.64 L513.55,271.15 L513.23,272.65 L512.95,274.16 L512.74,275.67 L512.59,277.17 L512.5,278.68 L512.44,280.18 L512.42,281.69 L512.41,283.19 L512.4,284.7 L512.4,284.7 L512.39,283.19 L512.38,281.69 L512.36,280.18 L512.3,278.68 L512.21,277.17 L512.06,275.67 L511.85,274.16 L511.57,272.65 L511.25,271.15 L510.91,269.64 L510.57,268.14 L510.28,266.63 L510.04,265.13 L509.87,263.62 L509.77,262.11 L509.72,260.61 L509.7,259.1 L509.7,257.6 L509.71,256.09 L509.74,254.59 L509.82,253.08 L509.96,251.57 L510.16,250.07 L510.43,248.56 L510.75,247.06 L511.09,245.55 L511.43,244.05 L511.73,242.54 L511.97,241.03 L512.15,239.53 L512.26,238.02 L512.33,236.52 L512.37,235.01 L512.39,233.51 L512.4,232Z" fill="#10a84a" stroke="#4a4a4a" stroke-width="0.35" stroke-linejoin="round"/>
<path d="M532.8,200.2 L532.84,201.92 L532.86,203.63 L532.9,205.35 L532.96,207.07 L533.05,208.79 L533.16,210.5 L533.32,212.22 L533.51,213.94 L533.74,215.65 L533.99,217.37 L534.27,219.09 L534.54,220.81 L534.79,222.52 L535,224.24 L535.14,225.96 L535.2,227.67 L535.17,229.39 L535.06,231.11 L534.88,232.83 L534.64,234.54 L534.38,236.26 L534.1,237.98 L533.83,239.69 L533.59,241.41 L533.38,243.13 L533.22,244.85 L533.09,246.56 L532.99,248.28 L532.92,250 L532.87,251.71 L532.84,253.43 L532.83,255.15 L532.81,256.87 L532.81,258.58 L532.8,260.3 L532.8,260.3 L532.79,258.58 L532.79,256.87 L532.77,255.15 L532.76,253.43 L532.73,251.71 L532.68,250 L532.61,248.28 L532.51,246.56 L532.38,244.85 L532.22,243.13 L532.01,241.41 L531.77,239.69 L531.5,237.98 L531.22,236.26 L530.96,234.54 L530.72,232.83 L530.54,231.11 L530.43,229.39 L530.4,227.67 L530.46,225.96 L530.6,224.24 L530.81,222.52 L531.06,220.81 L531.33,219.09 L531.61,217.37 L531.86,215.65 L532.09,213.94 L532.28,212.22 L532.44,210.5 L532.55,208.79 L532.64,207.07 L532.7,205.35 L532.74,203.63 L532.76,201.92 L532.8,200.2Z" fill="#a6ee12" stroke="#4a4a4a" stroke-width="0.35" stroke-linejoin="round"/>
<path d="M22.45,379.5 V547.1 H272.5" fill="none" stroke="#a4a4a4" stroke-width="1.2"/>
<path d="M21.15,393 H22.45" stroke="#a4a4a4" stroke-width="0.5"/>
<text x="21.25" y="394.59" font-size="4.5" text-anchor="end" class="t" style="stroke-width:0.12px">300</text>
<path d="M21.15,428.8 H22.45" stroke="#a4a4a4" stroke-width="0.5"/>
<text x="21.25" y="430.39" font-size="4.5" text-anchor="end" class="t" style="stroke-width:0.12px">250</text>
<path d="M21.15,464.5 H22.45" stroke="#a4a4a4" stroke-width="0.5"/>
<text x="21.25" y="466.09" font-size="4.5" text-anchor="end" class="t" style="stroke-width:0.12px">200</text>
<path d="M21.15,500.3 H22.45" stroke="#a4a4a4" stroke-width="0.5"/>
<text x="21.25" y="501.89" font-size="4.5" text-anchor="end" class="t" style="stroke-width:0.12px">150</text>
<path d="M21.15,535.6 H22.45" stroke="#a4a4a4" stroke-width="0.5"/>
<text x="21.25" y="537.19" font-size="4.5" text-anchor="end" class="t" style="stroke-width:0.12px">100</text>
<path d="M34.5,547.1 V548.3" stroke="#a4a4a4" stroke-width="0.5"/>
<path d="M55,547.1 V548.3" stroke="#a4a4a4" stroke-width="0.5"/>
<path d="M75.5,547.1 V548.3" stroke="#a4a4a4" stroke-width="0.5"/>
<path d="M96,547.1 V548.3" stroke="#a4a4a4" stroke-width="0.5"/>
<path d="M116.5,547.1 V548.3" stroke="#a4a4a4" stroke-width="0.5"/>
<path d="M137,547.1 V548.3" stroke="#a4a4a4" stroke-width="0.5"/>
<path d="M157.5,547.1 V548.3" stroke="#a4a4a4" stroke-width="0.5"/>
<path d="M178,547.1 V548.3" stroke="#a4a4a4" stroke-width="0.5"/>
<path d="M198.5,547.1 V548.3" stroke="#a4a4a4" stroke-width="0.5"/>
<path d="M219,547.1 V548.3" stroke="#a4a4a4" stroke-width="0.5"/>
<path d="M239.5,547.1 V548.3" stroke="#a4a4a4" stroke-width="0.5"/>
<path d="M260,547.1 V548.3" stroke="#a4a4a4" stroke-width="0.5"/>
<text x="28.4" y="555.4" font-size="5.0" textLength="14.9" lengthAdjust="spacingAndGlyphs" class="t" style="stroke-width:0.12px">CMT-1.5</text>
<text x="47.7" y="555.4" font-size="5.0" textLength="18.2" lengthAdjust="spacingAndGlyphs" class="t" style="stroke-width:0.12px">CMPT-1.5</text>
<text x="71.3" y="555.4" font-size="5.0" textLength="14.9" lengthAdjust="spacingAndGlyphs" class="t" style="stroke-width:0.12px">SMT-1.5</text>
<text x="90.9" y="555.4" font-size="5.0" textLength="17" lengthAdjust="spacingAndGlyphs" class="t" style="stroke-width:0.12px">SMPT-1.5</text>
<text x="113" y="555.4" font-size="5.0" textLength="15.5" lengthAdjust="spacingAndGlyphs" class="t" style="stroke-width:0.12px">BMT-1.5</text>
<text x="133.1" y="555.4" font-size="5.0" textLength="17.7" lengthAdjust="spacingAndGlyphs" class="t" style="stroke-width:0.12px">BMPT-1.5</text>
<text x="157.4" y="555.4" font-size="5.0" textLength="12.3" lengthAdjust="spacingAndGlyphs" class="t" style="stroke-width:0.12px">CMT-3</text>
<text x="175.9" y="555.4" font-size="5.0" textLength="14.4" lengthAdjust="spacingAndGlyphs" class="t" style="stroke-width:0.12px">CMPT-3</text>
<text x="195.2" y="555.4" font-size="5.0" textLength="11.4" lengthAdjust="spacingAndGlyphs" class="t" style="stroke-width:0.12px">SMT-3</text>
<text x="214.7" y="555.4" font-size="5.0" textLength="14.7" lengthAdjust="spacingAndGlyphs" class="t" style="stroke-width:0.12px">SMPT-3</text>
<text x="237.5" y="555.4" font-size="5.0" textLength="12.3" lengthAdjust="spacingAndGlyphs" class="t" style="stroke-width:0.12px">BMT-3</text>
<text x="256" y="555.4" font-size="5.0" textLength="14.6" lengthAdjust="spacingAndGlyphs" class="t" style="stroke-width:0.12px">BMPT-3</text>
<text x="29" y="389.7" font-size="9.0" class="t" style="stroke-width:0.18px">e.</text>
<text transform="translate(4.9,452.1) rotate(-90)" y="2.4" font-size="7.0" text-anchor="middle" style="stroke-width:0.12px" textLength="67.6" lengthAdjust="spacingAndGlyphs" class="t">Major carbonyls (mg/L)</text>
<path d="M34.5,517.9 L34.69,518.19 L34.76,518.48 L34.84,518.77 L34.93,519.07 L35.04,519.36 L35.16,519.65 L35.3,519.94 L35.44,520.23 L35.58,520.52 L35.71,520.81 L35.84,521.11 L35.95,521.4 L36.03,521.69 L36.08,521.98 L36.1,522.27 L36.09,522.56 L36.04,522.85 L35.96,523.15 L35.86,523.44 L35.74,523.73 L35.61,524.02 L35.46,524.31 L35.32,524.6 L35.19,524.89 L35.07,525.19 L34.95,525.48 L34.86,525.77 L34.77,526.06 L34.71,526.35 L34.65,526.64 L34.61,526.93 L34.58,527.23 L34.55,527.52 L34.54,527.81 L34.5,528.1 L34.5,528.1 L34.46,527.81 L34.45,527.52 L34.42,527.23 L34.39,526.93 L34.35,526.64 L34.29,526.35 L34.23,526.06 L34.14,525.77 L34.05,525.48 L33.93,525.19 L33.81,524.89 L33.68,524.6 L33.54,524.31 L33.39,524.02 L33.26,523.73 L33.14,523.44 L33.04,523.15 L32.96,522.85 L32.91,522.56 L32.9,522.27 L32.92,521.98 L32.97,521.69 L33.05,521.4 L33.16,521.11 L33.29,520.81 L33.42,520.52 L33.56,520.23 L33.7,519.94 L33.84,519.65 L33.96,519.36 L34.07,519.07 L34.16,518.77 L34.24,518.48 L34.31,518.19 L34.5,517.9Z" fill="#981ca6" stroke="#4a4a4a" stroke-width="0.35" stroke-linejoin="round"/>
<path d="M54.8,499 L54.99,499.71 L55.04,500.41 L55.08,501.12 L55.12,501.82 L55.17,502.53 L55.21,503.23 L55.25,503.94 L55.28,504.65 L55.31,505.35 L55.34,506.06 L55.36,506.76 L55.37,507.47 L55.39,508.17 L55.39,508.88 L55.4,509.59 L55.4,510.29 L55.4,511 L55.4,511.7 L55.4,512.41 L55.4,513.11 L55.39,513.82 L55.39,514.53 L55.38,515.23 L55.37,515.94 L55.35,516.64 L55.32,517.35 L55.29,518.05 L55.26,518.76 L55.22,519.47 L55.18,520.17 L55.14,520.88 L55.1,521.58 L55.05,522.29 L55.01,522.99 L54.8,523.7 L54.8,523.7 L54.59,522.99 L54.55,522.29 L54.5,521.58 L54.46,520.88 L54.42,520.17 L54.38,519.47 L54.34,518.76 L54.31,518.05 L54.28,517.35 L54.25,516.64 L54.23,515.94 L54.22,515.23 L54.21,514.53 L54.21,513.82 L54.2,513.11 L54.2,512.41 L54.2,511.7 L54.2,511 L54.2,510.29 L54.2,509.59 L54.21,508.88 L54.21,508.17 L54.23,507.47 L54.24,506.76 L54.26,506.06 L54.29,505.35 L54.32,504.65 L54.35,503.94 L54.39,503.23 L54.43,502.53 L54.48,501.82 L54.52,501.12 L54.56,500.41 L54.61,499.71 L54.8,499Z" fill="#f73ef7" stroke="#4a4a4a" stroke-width="0.35" stroke-linejoin="round"/>
<path d="M75.6,537.9 L76.74,537.95 L77.05,537.99 L77.41,538.04 L77.83,538.08 L78.33,538.13 L78.89,538.17 L79.51,538.22 L80.18,538.27 L80.89,538.31 L81.62,538.36 L82.34,538.4 L83.03,538.45 L83.65,538.49 L84.2,538.54 L84.63,538.59 L84.93,538.63 L85.08,538.68 L85.08,538.72 L84.93,538.77 L84.63,538.81 L84.2,538.86 L83.65,538.91 L83.03,538.95 L82.34,539 L81.62,539.04 L80.89,539.09 L80.18,539.13 L79.51,539.18 L78.89,539.23 L78.33,539.27 L77.83,539.32 L77.41,539.36 L77.05,539.41 L76.74,539.45 L75.6,539.5 L75.6,539.5 L74.46,539.45 L74.15,539.41 L73.79,539.36 L73.37,539.32 L72.87,539.27 L72.31,539.23 L71.69,539.18 L71.02,539.13 L70.31,539.09 L69.58,539.04 L68.86,539 L68.17,538.95 L67.55,538.91 L67,538.86 L66.57,538.81 L66.27,538.77 L66.12,538.72 L66.12,538.68 L66.27,538.63 L66.57,538.59 L67,538.54 L67.55,538.49 L68.17,538.45 L68.86,538.4 L69.58,538.36 L70.31,538.31 L71.02,538.27 L71.69,538.22 L72.31,538.17 L72.87,538.13 L73.37,538.08 L73.79,538.04 L74.15,537.99 L74.46,537.95 L75.6,537.9Z" fill="#1760e4" stroke="#4a4a4a" stroke-width="0.35" stroke-linejoin="round"/>
<path d="M96.3,512.1 L96.56,512.6 L96.62,513.09 L96.68,513.59 L96.75,514.09 L96.83,514.59 L96.91,515.08 L97,515.58 L97.08,516.08 L97.17,516.57 L97.24,517.07 L97.3,517.57 L97.35,518.07 L97.38,518.56 L97.4,519.06 L97.39,519.56 L97.36,520.05 L97.32,520.55 L97.26,521.05 L97.18,521.55 L97.11,522.04 L97.02,522.54 L96.94,523.04 L96.86,523.53 L96.79,524.03 L96.72,524.53 L96.66,525.03 L96.61,525.52 L96.56,526.02 L96.53,526.52 L96.49,527.01 L96.47,527.51 L96.44,528.01 L96.42,528.51 L96.41,529 L96.3,529.5 L96.3,529.5 L96.19,529 L96.18,528.51 L96.16,528.01 L96.13,527.51 L96.11,527.01 L96.07,526.52 L96.04,526.02 L95.99,525.52 L95.94,525.03 L95.88,524.53 L95.81,524.03 L95.74,523.53 L95.66,523.04 L95.58,522.54 L95.49,522.04 L95.42,521.55 L95.34,521.05 L95.28,520.55 L95.24,520.05 L95.21,519.56 L95.2,519.06 L95.22,518.56 L95.25,518.07 L95.3,517.57 L95.36,517.07 L95.43,516.57 L95.52,516.08 L95.6,515.58 L95.69,515.08 L95.77,514.59 L95.85,514.09 L95.92,513.59 L95.98,513.09 L96.04,512.6 L96.3,512.1Z" fill="#12b0ee" stroke="#4a4a4a" stroke-width="0.35" stroke-linejoin="round"/>
<path d="M116.6,484 L116.61,484.56 L116.61,485.12 L116.63,485.68 L116.67,486.24 L116.75,486.8 L116.86,487.36 L117.03,487.92 L117.24,488.48 L117.46,489.04 L117.66,489.6 L117.78,490.16 L117.8,490.72 L117.72,491.28 L117.55,491.84 L117.37,492.4 L117.2,492.96 L117.09,493.52 L117.06,494.08 L117.08,494.64 L117.14,495.2 L117.21,495.76 L117.27,496.32 L117.3,496.88 L117.29,497.44 L117.23,498 L117.14,498.56 L117.04,499.12 L116.93,499.68 L116.84,500.24 L116.76,500.8 L116.7,501.36 L116.66,501.92 L116.63,502.48 L116.62,503.04 L116.6,503.6 L116.6,503.6 L116.58,503.04 L116.57,502.48 L116.54,501.92 L116.5,501.36 L116.44,500.8 L116.36,500.24 L116.27,499.68 L116.16,499.12 L116.06,498.56 L115.97,498 L115.91,497.44 L115.9,496.88 L115.93,496.32 L115.99,495.76 L116.06,495.2 L116.12,494.64 L116.14,494.08 L116.11,493.52 L116,492.96 L115.83,492.4 L115.65,491.84 L115.48,491.28 L115.4,490.72 L115.42,490.16 L115.54,489.6 L115.74,489.04 L115.96,488.48 L116.17,487.92 L116.34,487.36 L116.45,486.8 L116.53,486.24 L116.57,485.68 L116.59,485.12 L116.59,484.56 L116.6,484Z" fill="#10a84a" stroke="#4a4a4a" stroke-width="0.35" stroke-linejoin="round"/>
<path d="M137.3,482.8 L137.43,483.37 L137.44,483.95 L137.47,484.52 L137.49,485.1 L137.52,485.67 L137.56,486.25 L137.61,486.82 L137.66,487.39 L137.73,487.97 L137.8,488.54 L137.89,489.12 L137.98,489.69 L138.08,490.27 L138.18,490.84 L138.27,491.41 L138.36,491.99 L138.42,492.56 L138.47,493.14 L138.49,493.71 L138.48,494.29 L138.45,494.86 L138.4,495.43 L138.32,496.01 L138.23,496.58 L138.12,497.16 L138.02,497.73 L137.91,498.31 L137.81,498.88 L137.72,499.45 L137.65,500.03 L137.58,500.6 L137.52,501.18 L137.48,501.75 L137.44,502.33 L137.3,502.9 L137.3,502.9 L137.16,502.33 L137.12,501.75 L137.08,501.18 L137.02,500.6 L136.95,500.03 L136.88,499.45 L136.79,498.88 L136.69,498.31 L136.58,497.73 L136.48,497.16 L136.37,496.58 L136.28,496.01 L136.2,495.43 L136.15,494.86 L136.12,494.29 L136.11,493.71 L136.13,493.14 L136.18,492.56 L136.24,491.99 L136.33,491.41 L136.42,490.84 L136.52,490.27 L136.62,489.69 L136.71,489.12 L136.8,488.54 L136.87,487.97 L136.94,487.39 L136.99,486.82 L137.04,486.25 L137.08,485.67 L137.11,485.1 L137.13,484.52 L137.16,483.95 L137.17,483.37 L137.3,482.8Z" fill="#a6ee12" stroke="#4a4a4a" stroke-width="0.35" stroke-linejoin="round"/>
<path d="M157.4,480.4 L158.71,480.52 L158.9,480.65 L159.11,480.77 L159.31,480.89 L159.5,481.01 L159.69,481.14 L159.85,481.26 L160,481.38 L160.13,481.51 L160.22,481.63 L160.29,481.75 L160.33,481.87 L160.34,482 L160.33,482.12 L160.28,482.24 L160.21,482.37 L160.12,482.49 L160.01,482.61 L159.87,482.73 L159.72,482.86 L159.55,482.98 L159.36,483.1 L159.17,483.23 L158.98,483.35 L158.78,483.47 L158.59,483.59 L158.41,483.72 L158.24,483.84 L158.09,483.96 L157.95,484.09 L157.83,484.21 L157.73,484.33 L157.65,484.45 L157.58,484.58 L157.4,484.7 L157.4,484.7 L157.22,484.58 L157.15,484.45 L157.07,484.33 L156.97,484.21 L156.85,484.09 L156.71,483.96 L156.56,483.84 L156.39,483.72 L156.21,483.59 L156.02,483.47 L155.82,483.35 L155.63,483.23 L155.44,483.1 L155.25,482.98 L155.08,482.86 L154.93,482.73 L154.79,482.61 L154.68,482.49 L154.59,482.37 L154.52,482.24 L154.47,482.12 L154.46,482 L154.47,481.87 L154.51,481.75 L154.58,481.63 L154.67,481.51 L154.8,481.38 L154.95,481.26 L155.11,481.14 L155.3,481.01 L155.49,480.89 L155.69,480.77 L155.9,480.65 L156.09,480.52 L157.4,480.4Z" fill="#981ca6" stroke="#4a4a4a" stroke-width="0.35" stroke-linejoin="round"/>
<path d="M178.5,429.9 L178.61,431.45 L178.63,432.99 L178.65,434.54 L178.67,436.08 L178.69,437.63 L178.71,439.17 L178.73,440.72 L178.75,442.27 L178.76,443.81 L178.77,445.36 L178.78,446.9 L178.79,448.45 L178.79,449.99 L178.8,451.54 L178.8,453.09 L178.8,454.63 L178.8,456.18 L178.8,457.72 L178.8,459.27 L178.8,460.81 L178.8,462.36 L178.79,463.91 L178.79,465.45 L178.78,467 L178.77,468.54 L178.76,470.09 L178.75,471.63 L178.73,473.18 L178.71,474.73 L178.69,476.27 L178.67,477.82 L178.65,479.36 L178.63,480.91 L178.61,482.45 L178.5,484 L178.5,484 L178.39,482.45 L178.37,480.91 L178.35,479.36 L178.33,477.82 L178.31,476.27 L178.29,474.73 L178.27,473.18 L178.25,471.63 L178.24,470.09 L178.23,468.54 L178.22,467 L178.21,465.45 L178.21,463.91 L178.2,462.36 L178.2,460.81 L178.2,459.27 L178.2,457.72 L178.2,456.18 L178.2,454.63 L178.2,453.09 L178.2,451.54 L178.21,449.99 L178.21,448.45 L178.22,446.9 L178.23,445.36 L178.24,443.81 L178.25,442.27 L178.27,440.72 L178.29,439.17 L178.31,437.63 L178.33,436.08 L178.35,434.54 L178.37,432.99 L178.39,431.45 L178.5,429.9Z" fill="#f73ef7" stroke="#4a4a4a" stroke-width="0.35" stroke-linejoin="round"/>
<path d="M198.8,485.7 L198.95,486.31 L198.97,486.91 L199,487.52 L199.02,488.12 L199.04,488.73 L199.07,489.33 L199.1,489.94 L199.13,490.55 L199.16,491.15 L199.21,491.76 L199.26,492.36 L199.32,492.97 L199.38,493.57 L199.46,494.18 L199.54,494.79 L199.62,495.39 L199.69,496 L199.75,496.6 L199.78,497.21 L199.78,497.81 L199.76,498.42 L199.71,499.03 L199.63,499.63 L199.53,500.24 L199.43,500.84 L199.32,501.45 L199.22,502.05 L199.13,502.66 L199.06,503.27 L198.99,503.87 L198.94,504.48 L198.91,505.08 L198.88,505.69 L198.86,506.29 L198.8,506.9 L198.8,506.9 L198.74,506.29 L198.72,505.69 L198.69,505.08 L198.66,504.48 L198.61,503.87 L198.54,503.27 L198.47,502.66 L198.38,502.05 L198.28,501.45 L198.17,500.84 L198.07,500.24 L197.97,499.63 L197.89,499.03 L197.84,498.42 L197.82,497.81 L197.82,497.21 L197.85,496.6 L197.91,496 L197.98,495.39 L198.06,494.79 L198.14,494.18 L198.22,493.57 L198.28,492.97 L198.34,492.36 L198.39,491.76 L198.44,491.15 L198.47,490.55 L198.5,489.94 L198.53,489.33 L198.56,488.73 L198.58,488.12 L198.6,487.52 L198.63,486.91 L198.65,486.31 L198.8,485.7Z" fill="#1760e4" stroke="#4a4a4a" stroke-width="0.35" stroke-linejoin="round"/>
<path d="M219.5,472.8 L219.58,473.57 L219.61,474.34 L219.64,475.11 L219.68,475.89 L219.73,476.66 L219.77,477.43 L219.81,478.2 L219.86,478.97 L219.89,479.74 L219.93,480.51 L219.95,481.29 L219.97,482.06 L219.98,482.83 L219.99,483.6 L220,484.37 L220,485.14 L220,485.91 L220,486.69 L220,487.46 L219.99,488.23 L219.99,489 L219.97,489.77 L219.96,490.54 L219.93,491.31 L219.9,492.09 L219.86,492.86 L219.82,493.63 L219.78,494.4 L219.74,495.17 L219.69,495.94 L219.65,496.71 L219.61,497.49 L219.58,498.26 L219.56,499.03 L219.5,499.8 L219.5,499.8 L219.44,499.03 L219.42,498.26 L219.39,497.49 L219.35,496.71 L219.31,495.94 L219.26,495.17 L219.22,494.4 L219.18,493.63 L219.14,492.86 L219.1,492.09 L219.07,491.31 L219.04,490.54 L219.03,489.77 L219.01,489 L219.01,488.23 L219,487.46 L219,486.69 L219,485.91 L219,485.14 L219,484.37 L219.01,483.6 L219.02,482.83 L219.03,482.06 L219.05,481.29 L219.07,480.51 L219.11,479.74 L219.14,478.97 L219.19,478.2 L219.23,477.43 L219.27,476.66 L219.32,475.89 L219.36,475.11 L219.39,474.34 L219.42,473.57 L219.5,472.8Z" fill="#12b0ee" stroke="#4a4a4a" stroke-width="0.35" stroke-linejoin="round"/>
<path d="M239.8,387.1 L239.87,388.21 L239.9,389.32 L239.94,390.43 L239.99,391.53 L240.04,392.64 L240.09,393.75 L240.14,394.86 L240.19,395.97 L240.22,397.08 L240.25,398.19 L240.27,399.29 L240.29,400.4 L240.3,401.51 L240.3,402.62 L240.3,403.73 L240.3,404.84 L240.3,405.95 L240.29,407.05 L240.28,408.16 L240.26,409.27 L240.24,410.38 L240.21,411.49 L240.16,412.6 L240.12,413.71 L240.07,414.81 L240.01,415.92 L239.97,417.03 L239.92,418.14 L239.88,419.25 L239.86,420.36 L239.83,421.47 L239.82,422.57 L239.81,423.68 L239.81,424.79 L239.8,425.9 L239.8,425.9 L239.79,424.79 L239.79,423.68 L239.78,422.57 L239.77,421.47 L239.74,420.36 L239.72,419.25 L239.68,418.14 L239.63,417.03 L239.59,415.92 L239.53,414.81 L239.48,413.71 L239.44,412.6 L239.39,411.49 L239.36,410.38 L239.34,409.27 L239.32,408.16 L239.31,407.05 L239.3,405.95 L239.3,404.84 L239.3,403.73 L239.3,402.62 L239.3,401.51 L239.31,400.4 L239.33,399.29 L239.35,398.19 L239.38,397.08 L239.41,395.97 L239.46,394.86 L239.51,393.75 L239.56,392.64 L239.61,391.53 L239.66,390.43 L239.7,389.32 L239.73,388.21 L239.8,387.1Z" fill="#10a84a" stroke="#4a4a4a" stroke-width="0.35" stroke-linejoin="round"/>
<path d="M260.6,412.7 L260.66,413.61 L260.68,414.52 L260.72,415.43 L260.75,416.33 L260.79,417.24 L260.83,418.15 L260.88,419.06 L260.92,419.97 L260.95,420.88 L260.98,421.79 L261.01,422.69 L261.02,423.6 L261.04,424.51 L261.04,425.42 L261.05,426.33 L261.05,427.24 L261.05,428.15 L261.05,429.05 L261.05,429.96 L261.04,430.87 L261.03,431.78 L261.02,432.69 L261,433.6 L260.97,434.51 L260.94,435.41 L260.9,436.32 L260.86,437.23 L260.82,438.14 L260.78,439.05 L260.74,439.96 L260.7,440.87 L260.67,441.77 L260.65,442.68 L260.63,443.59 L260.6,444.5 L260.6,444.5 L260.57,443.59 L260.55,442.68 L260.53,441.77 L260.5,440.87 L260.46,439.96 L260.42,439.05 L260.38,438.14 L260.34,437.23 L260.3,436.32 L260.26,435.41 L260.23,434.51 L260.2,433.6 L260.18,432.69 L260.17,431.78 L260.16,430.87 L260.15,429.96 L260.15,429.05 L260.15,428.15 L260.15,427.24 L260.15,426.33 L260.16,425.42 L260.16,424.51 L260.18,423.6 L260.19,422.69 L260.22,421.79 L260.25,420.88 L260.28,419.97 L260.32,419.06 L260.37,418.15 L260.41,417.24 L260.45,416.33 L260.48,415.43 L260.52,414.52 L260.54,413.61 L260.6,412.7Z" fill="#a6ee12" stroke="#4a4a4a" stroke-width="0.35" stroke-linejoin="round"/>
<path d="M299.4,385 V547 H542" fill="none" stroke="#a4a4a4" stroke-width="1.2"/>
<path d="M298.1,397.4 H299.4" stroke="#a4a4a4" stroke-width="0.5"/>
<text x="298" y="398.79" font-size="3.9" text-anchor="end" class="t" style="stroke-width:0.12px">200</text>
<path d="M298.1,436.4 H299.4" stroke="#a4a4a4" stroke-width="0.5"/>
<text x="298" y="437.79" font-size="3.9" text-anchor="end" class="t" style="stroke-width:0.12px">150</text>
<path d="M298.1,476 H299.4" stroke="#a4a4a4" stroke-width="0.5"/>
<text x="298" y="477.39" font-size="3.9" text-anchor="end" class="t" style="stroke-width:0.12px">100</text>
<path d="M298.1,516 H299.4" stroke="#a4a4a4" stroke-width="0.5"/>
<text x="298" y="517.39" font-size="3.9" text-anchor="end" class="t" style="stroke-width:0.12px">50</text>
<path d="M311.2,547 V548.2" stroke="#a4a4a4" stroke-width="0.5"/>
<path d="M331.1,547 V548.2" stroke="#a4a4a4" stroke-width="0.5"/>
<path d="M351,547 V548.2" stroke="#a4a4a4" stroke-width="0.5"/>
<path d="M370.9,547 V548.2" stroke="#a4a4a4" stroke-width="0.5"/>
<path d="M390.8,547 V548.2" stroke="#a4a4a4" stroke-width="0.5"/>
<path d="M410.7,547 V548.2" stroke="#a4a4a4" stroke-width="0.5"/>
<path d="M430.6,547 V548.2" stroke="#a4a4a4" stroke-width="0.5"/>
<path d="M450.5,547 V548.2" stroke="#a4a4a4" stroke-width="0.5"/>
<path d="M470.4,547 V548.2" stroke="#a4a4a4" stroke-width="0.5"/>
<path d="M490.3,547 V548.2" stroke="#a4a4a4" stroke-width="0.5"/>
<path d="M510.2,547 V548.2" stroke="#a4a4a4" stroke-width="0.5"/>
<path d="M530.1,547 V548.2" stroke="#a4a4a4" stroke-width="0.5"/>
<text x="309.4" y="555.7" font-size="5.0" textLength="15.2" lengthAdjust="spacingAndGlyphs" class="t" style="stroke-width:0.12px">CMT-1.5</text>
<text x="328" y="555.7" font-size="5.0" textLength="17.9" lengthAdjust="spacingAndGlyphs" class="t" style="stroke-width:0.12px">CMPT-1.5</text>
<text x="351" y="555.7" font-size="5.0" textLength="14.8" lengthAdjust="spacingAndGlyphs" class="t" style="stroke-width:0.12px">SMT-1.5</text>
<text x="369.5" y="555.7" font-size="5.0" textLength="16.6" lengthAdjust="spacingAndGlyphs" class="t" style="stroke-width:0.12px">SMPT-1.5</text>
<text x="390.4" y="555.7" font-size="5.0" textLength="14.9" lengthAdjust="spacingAndGlyphs" class="t" style="stroke-width:0.12px">BMT-1.5</text>
<text x="409.3" y="555.7" font-size="5.0" textLength="17.6" lengthAdjust="spacingAndGlyphs" class="t" style="stroke-width:0.12px">BMPT-1.5</text>
<text x="433" y="555.7" font-size="5.0" textLength="11.7" lengthAdjust="spacingAndGlyphs" class="t" style="stroke-width:0.12px">CMT-3</text>
<text x="450.4" y="555.7" font-size="5.0" textLength="13.8" lengthAdjust="spacingAndGlyphs" class="t" style="stroke-width:0.12px">CMPT-3</text>
<text x="468.7" y="555.7" font-size="5.0" textLength="11.2" lengthAdjust="spacingAndGlyphs" class="t" style="stroke-width:0.12px">SMT-3</text>
<text x="487.7" y="555.7" font-size="5.0" textLength="13" lengthAdjust="spacingAndGlyphs" class="t" style="stroke-width:0.12px">SMPT-3</text>
<text x="509.4" y="555.7" font-size="5.0" textLength="11.1" lengthAdjust="spacingAndGlyphs" class="t" style="stroke-width:0.12px">BMT-3</text>
<text x="526.4" y="555.7" font-size="5.0" textLength="14.2" lengthAdjust="spacingAndGlyphs" class="t" style="stroke-width:0.12px">BMPT-3</text>
<text x="308.9" y="389.6" font-size="9.0" class="t" style="stroke-width:0.05px">f.</text>
<text transform="translate(285.8,456) rotate(-90)" y="2.4" font-size="7.0" text-anchor="middle" style="stroke-width:0.12px" textLength="63.7" lengthAdjust="spacingAndGlyphs" class="t">Minor carbonyls (μg/L)</text>
<path d="M311.2,510.8 L311.55,511.02 L311.71,511.24 L311.91,511.46 L312.15,511.68 L312.42,511.9 L312.69,512.12 L312.95,512.34 L313.19,512.56 L313.39,512.78 L313.54,513 L313.64,513.22 L313.71,513.44 L313.76,513.66 L313.79,513.88 L313.8,514.1 L313.76,514.32 L313.68,514.54 L313.55,514.76 L313.39,514.98 L313.2,515.2 L312.99,515.42 L312.79,515.64 L312.59,515.86 L312.41,516.08 L312.25,516.3 L312.11,516.52 L311.98,516.74 L311.87,516.96 L311.76,517.18 L311.66,517.4 L311.57,517.62 L311.5,517.84 L311.43,518.06 L311.37,518.28 L311.2,518.5 L311.2,518.5 L311.03,518.28 L310.97,518.06 L310.9,517.84 L310.83,517.62 L310.74,517.4 L310.64,517.18 L310.53,516.96 L310.42,516.74 L310.29,516.52 L310.15,516.3 L309.99,516.08 L309.81,515.86 L309.61,515.64 L309.41,515.42 L309.2,515.2 L309.01,514.98 L308.85,514.76 L308.72,514.54 L308.64,514.32 L308.6,514.1 L308.61,513.88 L308.64,513.66 L308.69,513.44 L308.76,513.22 L308.86,513 L309.01,512.78 L309.21,512.56 L309.45,512.34 L309.71,512.12 L309.98,511.9 L310.25,511.68 L310.49,511.46 L310.69,511.24 L310.85,511.02 L311.2,510.8Z" fill="#981ca6" stroke="#4a4a4a" stroke-width="0.35" stroke-linejoin="round"/>
<path d="M331.1,531.2 L331.25,531.44 L331.35,531.68 L331.5,531.92 L331.69,532.16 L331.92,532.4 L332.19,532.64 L332.47,532.88 L332.75,533.12 L332.99,533.36 L333.19,533.6 L333.33,533.84 L333.41,534.08 L333.46,534.32 L333.48,534.56 L333.49,534.8 L333.45,535.04 L333.37,535.28 L333.23,535.52 L333.07,535.76 L332.87,536 L332.67,536.24 L332.48,536.48 L332.3,536.72 L332.14,536.96 L332,537.2 L331.88,537.44 L331.76,537.68 L331.66,537.92 L331.55,538.16 L331.46,538.4 L331.38,538.64 L331.31,538.88 L331.25,539.12 L331.2,539.36 L331.1,539.6 L331.1,539.6 L331,539.36 L330.95,539.12 L330.89,538.88 L330.82,538.64 L330.74,538.4 L330.65,538.16 L330.54,537.92 L330.44,537.68 L330.32,537.44 L330.2,537.2 L330.06,536.96 L329.9,536.72 L329.72,536.48 L329.53,536.24 L329.33,536 L329.13,535.76 L328.97,535.52 L328.83,535.28 L328.75,535.04 L328.71,534.8 L328.72,534.56 L328.74,534.32 L328.79,534.08 L328.87,533.84 L329.01,533.6 L329.21,533.36 L329.45,533.12 L329.73,532.88 L330.01,532.64 L330.28,532.4 L330.51,532.16 L330.7,531.92 L330.85,531.68 L330.95,531.44 L331.1,531.2Z" fill="#f73ef7" stroke="#4a4a4a" stroke-width="0.35" stroke-linejoin="round"/>
<path d="M351,518.3 L351.99,518.36 L352.28,518.41 L352.63,518.47 L353.05,518.53 L353.53,518.59 L354.06,518.64 L354.66,518.7 L355.3,518.76 L355.97,518.81 L356.65,518.87 L357.33,518.93 L357.97,518.99 L358.56,519.04 L359.06,519.1 L359.46,519.16 L359.74,519.21 L359.88,519.27 L359.88,519.33 L359.74,519.39 L359.46,519.44 L359.06,519.5 L358.56,519.56 L357.97,519.61 L357.33,519.67 L356.65,519.73 L355.97,519.79 L355.3,519.84 L354.66,519.9 L354.06,519.96 L353.53,520.01 L353.05,520.07 L352.63,520.13 L352.28,520.19 L351.99,520.24 L351,520.3 L351,520.3 L350.01,520.24 L349.72,520.19 L349.37,520.13 L348.95,520.07 L348.47,520.01 L347.94,519.96 L347.34,519.9 L346.7,519.84 L346.03,519.79 L345.35,519.73 L344.67,519.67 L344.03,519.61 L343.44,519.56 L342.94,519.5 L342.54,519.44 L342.26,519.39 L342.12,519.33 L342.12,519.27 L342.26,519.21 L342.54,519.16 L342.94,519.1 L343.44,519.04 L344.03,518.99 L344.67,518.93 L345.35,518.87 L346.03,518.81 L346.7,518.76 L347.34,518.7 L347.94,518.64 L348.47,518.59 L348.95,518.53 L349.37,518.47 L349.72,518.41 L350.01,518.36 L351,518.3Z" fill="#1760e4" stroke="#4a4a4a" stroke-width="0.35" stroke-linejoin="round"/>
<path d="M370.8,503.3 L371,503.8 L371.08,504.29 L371.17,504.79 L371.28,505.29 L371.41,505.79 L371.55,506.28 L371.7,506.78 L371.85,507.28 L371.99,507.77 L372.12,508.27 L372.21,508.77 L372.28,509.27 L372.3,509.76 L372.28,510.26 L372.23,510.76 L372.13,511.25 L372.01,511.75 L371.88,512.25 L371.73,512.75 L371.58,513.24 L371.43,513.74 L371.3,514.24 L371.19,514.73 L371.09,515.23 L371.01,515.73 L370.95,516.23 L370.9,516.72 L370.87,517.22 L370.85,517.72 L370.83,518.21 L370.82,518.71 L370.81,519.21 L370.81,519.71 L370.8,520.2 L370.8,520.7 L370.8,520.7 L370.8,520.2 L370.79,519.71 L370.79,519.21 L370.78,518.71 L370.77,518.21 L370.75,517.72 L370.73,517.22 L370.7,516.72 L370.65,516.23 L370.59,515.73 L370.51,515.23 L370.41,514.73 L370.3,514.24 L370.17,513.74 L370.02,513.24 L369.87,512.75 L369.72,512.25 L369.59,511.75 L369.47,511.25 L369.37,510.76 L369.32,510.26 L369.3,509.76 L369.32,509.27 L369.39,508.77 L369.48,508.27 L369.61,507.77 L369.75,507.28 L369.9,506.78 L370.05,506.28 L370.19,505.79 L370.32,505.29 L370.43,504.79 L370.52,504.29 L370.6,503.8 L370.8,503.3Z" fill="#12b0ee" stroke="#4a4a4a" stroke-width="0.35" stroke-linejoin="round"/>
<path d="M390.8,488.2 L390.95,488.5 L391.04,488.81 L391.18,489.11 L391.34,489.41 L391.54,489.71 L391.74,490.02 L391.92,490.32 L392.07,490.62 L392.15,490.93 L392.16,491.23 L392.12,491.53 L392.04,491.83 L391.95,492.14 L391.9,492.44 L391.9,492.74 L391.96,493.05 L392.08,493.35 L392.25,493.65 L392.43,493.95 L392.6,494.26 L392.73,494.56 L392.8,494.86 L392.79,495.17 L392.71,495.47 L392.55,495.77 L392.35,496.07 L392.11,496.38 L391.87,496.68 L391.63,496.98 L391.43,497.29 L391.25,497.59 L391.11,497.89 L391.01,498.19 L390.93,498.5 L390.8,498.8 L390.8,498.8 L390.67,498.5 L390.59,498.19 L390.49,497.89 L390.35,497.59 L390.17,497.29 L389.97,496.98 L389.73,496.68 L389.49,496.38 L389.25,496.07 L389.05,495.77 L388.89,495.47 L388.81,495.17 L388.8,494.86 L388.87,494.56 L389,494.26 L389.17,493.95 L389.35,493.65 L389.52,493.35 L389.64,493.05 L389.7,492.74 L389.7,492.44 L389.65,492.14 L389.56,491.83 L389.48,491.53 L389.44,491.23 L389.45,490.93 L389.53,490.62 L389.68,490.32 L389.86,490.02 L390.06,489.71 L390.26,489.41 L390.42,489.11 L390.56,488.81 L390.65,488.5 L390.8,488.2Z" fill="#10a84a" stroke="#4a4a4a" stroke-width="0.35" stroke-linejoin="round"/>
<path d="M411,486.5 L411.26,486.7 L411.35,486.91 L411.46,487.11 L411.59,487.31 L411.74,487.51 L411.9,487.72 L412.07,487.92 L412.23,488.12 L412.37,488.33 L412.49,488.53 L412.59,488.73 L412.65,488.93 L412.68,489.14 L412.69,489.34 L412.71,489.54 L412.74,489.75 L412.8,489.95 L412.92,490.15 L413.09,490.35 L413.31,490.56 L413.54,490.76 L413.76,490.96 L413.93,491.17 L414,491.37 L413.95,491.57 L413.78,491.77 L413.51,491.98 L413.15,492.18 L412.76,492.38 L412.37,492.59 L412.02,492.79 L411.72,492.99 L411.48,493.19 L411.31,493.4 L411,493.6 L411,493.6 L410.69,493.4 L410.52,493.19 L410.28,492.99 L409.98,492.79 L409.63,492.59 L409.24,492.38 L408.85,492.18 L408.49,491.98 L408.22,491.77 L408.05,491.57 L408,491.37 L408.07,491.17 L408.24,490.96 L408.46,490.76 L408.69,490.56 L408.91,490.35 L409.08,490.15 L409.2,489.95 L409.26,489.75 L409.29,489.54 L409.31,489.34 L409.32,489.14 L409.35,488.93 L409.41,488.73 L409.51,488.53 L409.63,488.33 L409.77,488.12 L409.93,487.92 L410.1,487.72 L410.26,487.51 L410.41,487.31 L410.54,487.11 L410.65,486.91 L410.74,486.7 L411,486.5Z" fill="#a6ee12" stroke="#4a4a4a" stroke-width="0.35" stroke-linejoin="round"/>
<path d="M430.6,483.2 L430.8,483.82 L430.86,484.45 L430.93,485.07 L431.01,485.69 L431.1,486.31 L431.2,486.94 L431.29,487.56 L431.38,488.18 L431.46,488.81 L431.53,489.43 L431.57,490.05 L431.6,490.67 L431.6,491.3 L431.57,491.92 L431.53,492.54 L431.46,493.17 L431.38,493.79 L431.3,494.41 L431.2,495.03 L431.11,495.66 L431.02,496.28 L430.94,496.9 L430.86,497.53 L430.8,498.15 L430.75,498.77 L430.71,499.39 L430.68,500.02 L430.65,500.64 L430.64,501.26 L430.62,501.89 L430.62,502.51 L430.61,503.13 L430.61,503.75 L430.6,504.38 L430.6,505 L430.6,505 L430.6,504.38 L430.59,503.75 L430.59,503.13 L430.58,502.51 L430.58,501.89 L430.56,501.26 L430.55,500.64 L430.52,500.02 L430.49,499.39 L430.45,498.77 L430.4,498.15 L430.34,497.53 L430.26,496.9 L430.18,496.28 L430.09,495.66 L430,495.03 L429.9,494.41 L429.82,493.79 L429.74,493.17 L429.67,492.54 L429.63,491.92 L429.6,491.3 L429.6,490.67 L429.63,490.05 L429.67,489.43 L429.74,488.81 L429.82,488.18 L429.91,487.56 L430,486.94 L430.1,486.31 L430.19,485.69 L430.27,485.07 L430.34,484.45 L430.4,483.82 L430.6,483.2Z" fill="#981ca6" stroke="#4a4a4a" stroke-width="0.35" stroke-linejoin="round"/>
<path d="M450.3,494.1 L450.39,494.57 L450.47,495.04 L450.61,495.51 L450.82,495.97 L451.09,496.44 L451.4,496.91 L451.71,497.38 L451.96,497.85 L452.09,498.32 L452.07,498.79 L451.91,499.25 L451.65,499.72 L451.33,500.19 L451.03,500.66 L450.79,501.13 L450.62,501.6 L450.55,502.07 L450.56,502.53 L450.65,503 L450.81,503.47 L451.02,503.94 L451.24,504.41 L451.44,504.88 L451.57,505.35 L451.6,505.81 L451.52,506.28 L451.35,506.75 L451.13,507.22 L450.9,507.69 L450.7,508.16 L450.54,508.63 L450.44,509.09 L450.37,509.56 L450.33,510.03 L450.3,510.5 L450.3,510.5 L450.27,510.03 L450.23,509.56 L450.16,509.09 L450.06,508.63 L449.9,508.16 L449.7,507.69 L449.47,507.22 L449.25,506.75 L449.08,506.28 L449,505.81 L449.03,505.35 L449.16,504.88 L449.36,504.41 L449.58,503.94 L449.79,503.47 L449.95,503 L450.04,502.53 L450.05,502.07 L449.98,501.6 L449.81,501.13 L449.57,500.66 L449.27,500.19 L448.95,499.72 L448.69,499.25 L448.53,498.79 L448.51,498.32 L448.64,497.85 L448.89,497.38 L449.2,496.91 L449.51,496.44 L449.78,495.97 L449.99,495.51 L450.13,495.04 L450.21,494.57 L450.3,494.1Z" fill="#f73ef7" stroke="#4a4a4a" stroke-width="0.35" stroke-linejoin="round"/>
<path d="M470.1,476.6 L470.24,477.85 L470.29,479.1 L470.34,480.35 L470.4,481.59 L470.47,482.84 L470.53,484.09 L470.59,485.34 L470.64,486.59 L470.69,487.84 L470.73,489.09 L470.75,490.33 L470.78,491.58 L470.79,492.83 L470.8,494.08 L470.8,495.33 L470.8,496.58 L470.8,497.83 L470.8,499.07 L470.79,500.32 L470.78,501.57 L470.77,502.82 L470.75,504.07 L470.71,505.32 L470.67,506.57 L470.62,507.81 L470.57,509.06 L470.51,510.31 L470.45,511.56 L470.38,512.81 L470.33,514.06 L470.27,515.31 L470.23,516.55 L470.19,517.8 L470.16,519.05 L470.1,520.3 L470.1,520.3 L470.04,519.05 L470.01,517.8 L469.97,516.55 L469.93,515.31 L469.87,514.06 L469.82,512.81 L469.75,511.56 L469.69,510.31 L469.63,509.06 L469.58,507.81 L469.53,506.57 L469.49,505.32 L469.45,504.07 L469.43,502.82 L469.42,501.57 L469.41,500.32 L469.4,499.07 L469.4,497.83 L469.4,496.58 L469.4,495.33 L469.4,494.08 L469.41,492.83 L469.42,491.58 L469.45,490.33 L469.47,489.09 L469.51,487.84 L469.56,486.59 L469.61,485.34 L469.67,484.09 L469.73,482.84 L469.8,481.59 L469.86,480.35 L469.91,479.1 L469.96,477.85 L470.1,476.6Z" fill="#1760e4" stroke="#4a4a4a" stroke-width="0.35" stroke-linejoin="round"/>
<path d="M490.6,453.3 L490.62,454.19 L490.65,455.07 L490.7,455.96 L490.78,456.84 L490.92,457.73 L491.12,458.61 L491.36,459.5 L491.63,460.39 L491.89,461.27 L492.07,462.16 L492.15,463.04 L492.11,463.93 L491.97,464.81 L491.77,465.7 L491.57,466.59 L491.41,467.47 L491.3,468.36 L491.25,469.24 L491.23,470.13 L491.22,471.01 L491.22,471.9 L491.2,472.79 L491.15,473.67 L491.09,474.56 L491.01,475.44 L490.93,476.33 L490.86,477.21 L490.79,478.1 L490.73,478.99 L490.69,479.87 L490.65,480.76 L490.63,481.64 L490.62,482.53 L490.61,483.41 L490.6,484.3 L490.6,484.3 L490.59,483.41 L490.58,482.53 L490.57,481.64 L490.55,480.76 L490.51,479.87 L490.47,478.99 L490.41,478.1 L490.34,477.21 L490.27,476.33 L490.19,475.44 L490.11,474.56 L490.05,473.67 L490,472.79 L489.98,471.9 L489.98,471.01 L489.97,470.13 L489.95,469.24 L489.9,468.36 L489.79,467.47 L489.63,466.59 L489.43,465.7 L489.23,464.81 L489.09,463.93 L489.05,463.04 L489.13,462.16 L489.31,461.27 L489.57,460.39 L489.84,459.5 L490.08,458.61 L490.28,457.73 L490.42,456.84 L490.5,455.96 L490.55,455.07 L490.58,454.19 L490.6,453.3Z" fill="#12b0ee" stroke="#4a4a4a" stroke-width="0.35" stroke-linejoin="round"/>
<path d="M510.5,392.1 L510.51,393.04 L510.51,393.98 L510.53,394.92 L510.54,395.86 L510.57,396.8 L510.62,397.74 L510.67,398.68 L510.74,399.62 L510.82,400.56 L510.91,401.5 L510.99,402.44 L511.07,403.38 L511.13,404.32 L511.17,405.26 L511.21,406.2 L511.26,407.14 L511.33,408.08 L511.41,409.02 L511.49,409.96 L511.54,410.9 L511.54,411.84 L511.46,412.78 L511.32,413.72 L511.14,414.66 L510.96,415.6 L510.8,416.54 L510.67,417.48 L510.59,418.42 L510.55,419.36 L510.52,420.3 L510.51,421.24 L510.5,422.18 L510.5,423.12 L510.5,424.06 L510.5,425 L510.5,425 L510.5,424.06 L510.5,423.12 L510.5,422.18 L510.49,421.24 L510.48,420.3 L510.45,419.36 L510.41,418.42 L510.33,417.48 L510.2,416.54 L510.04,415.6 L509.86,414.66 L509.68,413.72 L509.54,412.78 L509.46,411.84 L509.46,410.9 L509.51,409.96 L509.59,409.02 L509.67,408.08 L509.74,407.14 L509.79,406.2 L509.83,405.26 L509.87,404.32 L509.93,403.38 L510.01,402.44 L510.09,401.5 L510.18,400.56 L510.26,399.62 L510.33,398.68 L510.38,397.74 L510.43,396.8 L510.46,395.86 L510.47,394.92 L510.49,393.98 L510.49,393.04 L510.5,392.1Z" fill="#10a84a" stroke="#4a4a4a" stroke-width="0.35" stroke-linejoin="round"/>
<path d="M530,408.6 L530.2,409.25 L530.28,409.9 L530.36,410.55 L530.45,411.21 L530.54,411.86 L530.62,412.51 L530.67,413.16 L530.7,413.81 L530.69,414.46 L530.66,415.11 L530.6,415.77 L530.53,416.42 L530.48,417.07 L530.45,417.72 L530.47,418.37 L530.57,419.02 L530.74,419.67 L530.97,420.33 L531.22,420.98 L531.45,421.63 L531.59,422.28 L531.6,422.93 L531.48,423.58 L531.26,424.23 L530.98,424.89 L530.7,425.54 L530.46,426.19 L530.27,426.84 L530.15,427.49 L530.08,428.14 L530.03,428.79 L530.01,429.45 L530.01,430.1 L530,430.75 L530,431.4 L530,431.4 L530,430.75 L529.99,430.1 L529.99,429.45 L529.97,428.79 L529.92,428.14 L529.85,427.49 L529.73,426.84 L529.54,426.19 L529.3,425.54 L529.02,424.89 L528.74,424.23 L528.52,423.58 L528.4,422.93 L528.41,422.28 L528.55,421.63 L528.78,420.98 L529.03,420.33 L529.26,419.67 L529.43,419.02 L529.53,418.37 L529.55,417.72 L529.52,417.07 L529.47,416.42 L529.4,415.77 L529.34,415.11 L529.31,414.46 L529.3,413.81 L529.33,413.16 L529.38,412.51 L529.46,411.86 L529.55,411.21 L529.64,410.55 L529.72,409.9 L529.8,409.25 L530,408.6Z" fill="#a6ee12" stroke="#4a4a4a" stroke-width="0.35" stroke-linejoin="round"/>
<path d="M22.5,565.5 V723.2 H264.8" fill="none" stroke="#a4a4a4" stroke-width="1.2"/>
<path d="M21.2,566.3 H22.5" stroke="#a4a4a4" stroke-width="0.5"/>
<text x="21.5" y="567.7" font-size="3.95" text-anchor="end" class="t" style="stroke-width:0.12px">3000</text>
<path d="M21.2,615.9 H22.5" stroke="#a4a4a4" stroke-width="0.5"/>
<text x="21.5" y="617.3" font-size="3.95" text-anchor="end" class="t" style="stroke-width:0.12px">2000</text>
<path d="M21.2,671.9 H22.5" stroke="#a4a4a4" stroke-width="0.5"/>
<text x="21.5" y="673.3" font-size="3.95" text-anchor="end" class="t" style="stroke-width:0.12px">1000</text>
<path d="M34.5,723.2 V724.4" stroke="#a4a4a4" stroke-width="0.5"/>
<path d="M54.34,723.2 V724.4" stroke="#a4a4a4" stroke-width="0.5"/>
<path d="M74.18,723.2 V724.4" stroke="#a4a4a4" stroke-width="0.5"/>
<path d="M94.02,723.2 V724.4" stroke="#a4a4a4" stroke-width="0.5"/>
<path d="M113.86,723.2 V724.4" stroke="#a4a4a4" stroke-width="0.5"/>
<path d="M133.7,723.2 V724.4" stroke="#a4a4a4" stroke-width="0.5"/>
<path d="M153.54,723.2 V724.4" stroke="#a4a4a4" stroke-width="0.5"/>
<path d="M173.38,723.2 V724.4" stroke="#a4a4a4" stroke-width="0.5"/>
<path d="M193.22,723.2 V724.4" stroke="#a4a4a4" stroke-width="0.5"/>
<path d="M213.06,723.2 V724.4" stroke="#a4a4a4" stroke-width="0.5"/>
<path d="M232.9,723.2 V724.4" stroke="#a4a4a4" stroke-width="0.5"/>
<path d="M252.74,723.2 V724.4" stroke="#a4a4a4" stroke-width="0.5"/>
<text x="28.4" y="731.5" font-size="5.0" textLength="14.5" lengthAdjust="spacingAndGlyphs" class="t" style="stroke-width:0.12px">CMT-1.5</text>
<text x="49.5" y="731.5" font-size="5.0" textLength="16.9" lengthAdjust="spacingAndGlyphs" class="t" style="stroke-width:0.12px">CMPT-1.5</text>
<text x="72" y="731.5" font-size="5.0" textLength="14.5" lengthAdjust="spacingAndGlyphs" class="t" style="stroke-width:0.12px">SMT-1.5</text>
<text x="91.2" y="731.5" font-size="5.0" textLength="16.4" lengthAdjust="spacingAndGlyphs" class="t" style="stroke-width:0.12px">SMPT-1.5</text>
<text x="112.3" y="731.5" font-size="5.0" textLength="15.2" lengthAdjust="spacingAndGlyphs" class="t" style="stroke-width:0.12px">BMT-1.5</text>
<text x="131.7" y="731.5" font-size="5.0" textLength="16.9" lengthAdjust="spacingAndGlyphs" class="t" style="stroke-width:0.12px">BMPT-1.5</text>
<text x="154.9" y="731.5" font-size="5.0" textLength="11.8" lengthAdjust="spacingAndGlyphs" class="t" style="stroke-width:0.12px">CMT-3</text>
<text x="172.7" y="731.5" font-size="5.0" textLength="14.1" lengthAdjust="spacingAndGlyphs" class="t" style="stroke-width:0.12px">CMPT-3</text>
<text x="190.8" y="731.5" font-size="5.0" textLength="10.8" lengthAdjust="spacingAndGlyphs" class="t" style="stroke-width:0.12px">SMT-3</text>
<text x="209.2" y="731.5" font-size="5.0" textLength="14.2" lengthAdjust="spacingAndGlyphs" class="t" style="stroke-width:0.12px">SMPT-3</text>
<text x="231" y="731.5" font-size="5.0" textLength="11.6" lengthAdjust="spacingAndGlyphs" class="t" style="stroke-width:0.12px">BMT-3</text>
<text x="248.5" y="731.5" font-size="5.0" textLength="14.2" lengthAdjust="spacingAndGlyphs" class="t" style="stroke-width:0.12px">BMPT-3</text>
<text x="29.2" y="574.3" font-size="9.0" class="t" style="stroke-width:0.18px">g.</text>
<text transform="translate(7.1,631.9) rotate(-90)" y="2.4" font-size="7.0" text-anchor="middle" style="stroke-width:0.12px" textLength="43.2" lengthAdjust="spacingAndGlyphs" class="t">Lactones (μg/L)</text>
<path d="M34.1,675.6 L34.24,675.77 L34.32,675.94 L34.46,676.11 L34.69,676.29 L35.04,676.46 L35.54,676.63 L36.19,676.8 L36.95,676.97 L37.74,677.14 L38.44,677.31 L38.95,677.49 L39.17,677.66 L39.1,677.83 L38.78,678 L38.31,678.17 L37.8,678.34 L37.34,678.51 L36.98,678.69 L36.71,678.86 L36.52,679.03 L36.38,679.2 L36.26,679.37 L36.14,679.54 L36,679.71 L35.85,679.89 L35.68,680.06 L35.51,680.23 L35.33,680.4 L35.16,680.57 L35,680.74 L34.84,680.91 L34.71,681.09 L34.59,681.26 L34.48,681.43 L34.1,681.6 L34.1,681.6 L33.72,681.43 L33.61,681.26 L33.49,681.09 L33.36,680.91 L33.2,680.74 L33.04,680.57 L32.87,680.4 L32.69,680.23 L32.52,680.06 L32.35,679.89 L32.2,679.71 L32.06,679.54 L31.94,679.37 L31.82,679.2 L31.68,679.03 L31.49,678.86 L31.22,678.69 L30.86,678.51 L30.4,678.34 L29.89,678.17 L29.42,678 L29.1,677.83 L29.03,677.66 L29.25,677.49 L29.76,677.31 L30.46,677.14 L31.25,676.97 L32.01,676.8 L32.66,676.63 L33.16,676.46 L33.51,676.29 L33.74,676.11 L33.88,675.94 L33.96,675.77 L34.1,675.6Z" fill="#981ca6" stroke="#4a4a4a" stroke-width="0.35" stroke-linejoin="round"/>
<path d="M54.1,694.4 L54.3,695.02 L54.35,695.65 L54.42,696.27 L54.5,696.89 L54.58,697.51 L54.66,698.14 L54.75,698.76 L54.83,699.38 L54.89,700.01 L54.95,700.63 L54.99,701.25 L55,701.87 L55,702.5 L54.99,703.12 L54.97,703.74 L54.96,704.37 L54.98,704.99 L55.06,705.61 L55.19,706.23 L55.38,706.86 L55.58,707.48 L55.74,708.1 L55.8,708.73 L55.74,709.35 L55.56,709.97 L55.28,710.59 L54.97,711.22 L54.69,711.84 L54.46,712.46 L54.31,713.09 L54.21,713.71 L54.15,714.33 L54.12,714.95 L54.11,715.58 L54.1,716.2 L54.1,716.2 L54.09,715.58 L54.08,714.95 L54.05,714.33 L53.99,713.71 L53.89,713.09 L53.74,712.46 L53.51,711.84 L53.23,711.22 L52.92,710.59 L52.64,709.97 L52.46,709.35 L52.4,708.73 L52.46,708.1 L52.62,707.48 L52.82,706.86 L53.01,706.23 L53.14,705.61 L53.22,704.99 L53.24,704.37 L53.23,703.74 L53.21,703.12 L53.2,702.5 L53.2,701.87 L53.21,701.25 L53.25,700.63 L53.31,700.01 L53.37,699.38 L53.45,698.76 L53.54,698.14 L53.62,697.51 L53.7,696.89 L53.78,696.27 L53.85,695.65 L53.9,695.02 L54.1,694.4Z" fill="#f73ef7" stroke="#4a4a4a" stroke-width="0.35" stroke-linejoin="round"/>
<path d="M74.1,690.2 L74.23,690.35 L74.32,690.51 L74.48,690.66 L74.74,690.82 L75.13,690.97 L75.68,691.13 L76.38,691.28 L77.21,691.43 L78.06,691.59 L78.82,691.74 L79.37,691.9 L79.62,692.05 L79.54,692.21 L79.21,692.36 L78.71,692.51 L78.15,692.67 L77.64,692.82 L77.22,692.98 L76.9,693.13 L76.67,693.29 L76.48,693.44 L76.32,693.59 L76.16,693.75 L75.99,693.9 L75.8,694.06 L75.61,694.21 L75.41,694.37 L75.22,694.52 L75.04,694.67 L74.87,694.83 L74.72,694.98 L74.59,695.14 L74.48,695.29 L74.39,695.45 L74.1,695.6 L74.1,695.6 L73.81,695.45 L73.72,695.29 L73.61,695.14 L73.48,694.98 L73.33,694.83 L73.16,694.67 L72.98,694.52 L72.79,694.37 L72.59,694.21 L72.4,694.06 L72.21,693.9 L72.04,693.75 L71.88,693.59 L71.72,693.44 L71.53,693.29 L71.3,693.13 L70.98,692.98 L70.56,692.82 L70.05,692.67 L69.49,692.51 L68.99,692.36 L68.66,692.21 L68.58,692.05 L68.83,691.9 L69.38,691.74 L70.14,691.59 L70.99,691.43 L71.82,691.28 L72.52,691.13 L73.07,690.97 L73.46,690.82 L73.72,690.66 L73.88,690.51 L73.97,690.35 L74.1,690.2Z" fill="#1760e4" stroke="#4a4a4a" stroke-width="0.35" stroke-linejoin="round"/>
<path d="M93.8,705.3 L94.19,705.44 L94.45,705.58 L94.83,705.72 L95.34,705.86 L95.98,706 L96.71,706.14 L97.46,706.28 L98.15,706.42 L98.68,706.56 L98.99,706.7 L99.04,706.84 L98.86,706.98 L98.5,707.12 L98.05,707.26 L97.59,707.4 L97.18,707.54 L96.84,707.68 L96.59,707.82 L96.4,707.96 L96.25,708.1 L96.12,708.24 L95.98,708.38 L95.83,708.52 L95.66,708.66 L95.47,708.8 L95.28,708.94 L95.08,709.08 L94.89,709.22 L94.71,709.36 L94.55,709.5 L94.4,709.64 L94.27,709.78 L94.16,709.92 L94.08,710.06 L93.8,710.2 L93.8,710.2 L93.52,710.06 L93.44,709.92 L93.33,709.78 L93.2,709.64 L93.05,709.5 L92.89,709.36 L92.71,709.22 L92.52,709.08 L92.32,708.94 L92.13,708.8 L91.94,708.66 L91.77,708.52 L91.62,708.38 L91.48,708.24 L91.35,708.1 L91.2,707.96 L91.01,707.82 L90.76,707.68 L90.42,707.54 L90.01,707.4 L89.55,707.26 L89.1,707.12 L88.74,706.98 L88.56,706.84 L88.61,706.7 L88.92,706.56 L89.45,706.42 L90.14,706.28 L90.89,706.14 L91.62,706 L92.26,705.86 L92.77,705.72 L93.15,705.58 L93.41,705.44 L93.8,705.3Z" fill="#12b0ee" stroke="#4a4a4a" stroke-width="0.35" stroke-linejoin="round"/>
<path d="M113.7,684.2 L115.63,684.29 L116.04,684.37 L116.52,684.46 L117.07,684.54 L117.68,684.63 L118.36,684.71 L119.07,684.8 L119.81,684.89 L120.55,684.97 L121.25,685.06 L121.88,685.14 L122.42,685.23 L122.83,685.31 L123.08,685.4 L123.17,685.49 L123.09,685.57 L122.84,685.66 L122.43,685.74 L121.89,685.83 L121.25,685.91 L120.53,686 L119.77,686.09 L119,686.17 L118.26,686.26 L117.55,686.34 L116.91,686.43 L116.33,686.51 L115.83,686.6 L115.41,686.69 L115.06,686.77 L114.77,686.86 L114.53,686.94 L114.35,687.03 L114.2,687.11 L113.7,687.2 L113.7,687.2 L113.2,687.11 L113.05,687.03 L112.87,686.94 L112.63,686.86 L112.34,686.77 L111.99,686.69 L111.57,686.6 L111.07,686.51 L110.49,686.43 L109.85,686.34 L109.14,686.26 L108.4,686.17 L107.63,686.09 L106.87,686 L106.15,685.91 L105.51,685.83 L104.97,685.74 L104.56,685.66 L104.31,685.57 L104.23,685.49 L104.32,685.4 L104.57,685.31 L104.98,685.23 L105.52,685.14 L106.15,685.06 L106.85,684.97 L107.59,684.89 L108.33,684.8 L109.04,684.71 L109.72,684.63 L110.33,684.54 L110.88,684.46 L111.36,684.37 L111.77,684.29 L113.7,684.2Z" fill="#10a84a" stroke="#4a4a4a" stroke-width="0.35" stroke-linejoin="round"/>
<path d="M133.5,676.2 L133.52,676.63 L133.54,677.06 L133.6,677.49 L133.7,677.93 L133.87,678.36 L134.13,678.79 L134.48,679.22 L134.88,679.65 L135.28,680.08 L135.57,680.51 L135.7,680.95 L135.63,681.38 L135.39,681.81 L135.04,682.24 L134.69,682.67 L134.41,683.1 L134.26,683.53 L134.25,683.97 L134.35,684.4 L134.51,684.83 L134.67,685.26 L134.78,685.69 L134.8,686.12 L134.72,686.55 L134.55,686.99 L134.33,687.42 L134.11,687.85 L133.91,688.28 L133.75,688.71 L133.64,689.14 L133.58,689.57 L133.54,690.01 L133.52,690.44 L133.51,690.87 L133.5,691.3 L133.5,691.3 L133.49,690.87 L133.48,690.44 L133.46,690.01 L133.42,689.57 L133.36,689.14 L133.25,688.71 L133.09,688.28 L132.89,687.85 L132.67,687.42 L132.45,686.99 L132.28,686.55 L132.2,686.12 L132.22,685.69 L132.33,685.26 L132.49,684.83 L132.65,684.4 L132.75,683.97 L132.74,683.53 L132.59,683.1 L132.31,682.67 L131.96,682.24 L131.61,681.81 L131.37,681.38 L131.3,680.95 L131.43,680.51 L131.72,680.08 L132.12,679.65 L132.52,679.22 L132.87,678.79 L133.13,678.36 L133.3,677.93 L133.4,677.49 L133.46,677.06 L133.48,676.63 L133.5,676.2Z" fill="#a6ee12" stroke="#4a4a4a" stroke-width="0.35" stroke-linejoin="round"/>
<path d="M153.5,688.9 L153.95,689.03 L154.13,689.16 L154.37,689.29 L154.67,689.43 L155.03,689.56 L155.45,689.69 L155.92,689.82 L156.43,689.95 L156.95,690.08 L157.47,690.21 L157.95,690.35 L158.36,690.48 L158.68,690.61 L158.89,690.74 L158.97,690.87 L158.92,691 L158.75,691.13 L158.47,691.27 L158.1,691.4 L157.67,691.53 L157.21,691.66 L156.74,691.79 L156.28,691.92 L155.85,692.05 L155.45,692.19 L155.1,692.32 L154.8,692.45 L154.55,692.58 L154.34,692.71 L154.16,692.84 L154.02,692.97 L153.9,693.11 L153.81,693.24 L153.74,693.37 L153.5,693.5 L153.5,693.5 L153.26,693.37 L153.19,693.24 L153.1,693.11 L152.98,692.97 L152.84,692.84 L152.66,692.71 L152.45,692.58 L152.2,692.45 L151.9,692.32 L151.55,692.19 L151.15,692.05 L150.72,691.92 L150.26,691.79 L149.79,691.66 L149.33,691.53 L148.9,691.4 L148.53,691.27 L148.25,691.13 L148.08,691 L148.03,690.87 L148.11,690.74 L148.32,690.61 L148.64,690.48 L149.05,690.35 L149.53,690.21 L150.05,690.08 L150.57,689.95 L151.08,689.82 L151.55,689.69 L151.97,689.56 L152.33,689.43 L152.63,689.29 L152.87,689.16 L153.05,689.03 L153.5,688.9Z" fill="#981ca6" stroke="#4a4a4a" stroke-width="0.35" stroke-linejoin="round"/>
<path d="M173.2,681.1 L173.51,681.25 L173.74,681.41 L174.09,681.56 L174.59,681.72 L175.25,681.87 L176.02,682.03 L176.82,682.18 L177.55,682.33 L178.09,682.49 L178.36,682.64 L178.33,682.8 L178.05,682.95 L177.62,683.11 L177.14,683.26 L176.71,683.41 L176.36,683.57 L176.12,683.72 L175.95,683.88 L175.83,684.03 L175.73,684.19 L175.61,684.34 L175.47,684.49 L175.31,684.65 L175.12,684.8 L174.91,684.96 L174.7,685.11 L174.49,685.27 L174.29,685.42 L174.1,685.57 L173.93,685.73 L173.78,685.88 L173.65,686.04 L173.54,686.19 L173.46,686.35 L173.2,686.5 L173.2,686.5 L172.94,686.35 L172.86,686.19 L172.75,686.04 L172.62,685.88 L172.47,685.73 L172.3,685.57 L172.11,685.42 L171.91,685.27 L171.7,685.11 L171.49,684.96 L171.28,684.8 L171.09,684.65 L170.93,684.49 L170.79,684.34 L170.67,684.19 L170.57,684.03 L170.45,683.88 L170.28,683.72 L170.04,683.57 L169.69,683.41 L169.26,683.26 L168.78,683.11 L168.35,682.95 L168.07,682.8 L168.04,682.64 L168.31,682.49 L168.85,682.33 L169.58,682.18 L170.38,682.03 L171.15,681.87 L171.81,681.72 L172.31,681.56 L172.66,681.41 L172.89,681.25 L173.2,681.1Z" fill="#f73ef7" stroke="#4a4a4a" stroke-width="0.35" stroke-linejoin="round"/>
<path d="M193.2,679.8 L193.26,680.06 L193.29,680.32 L193.32,680.58 L193.37,680.84 L193.44,681.1 L193.52,681.36 L193.63,681.62 L193.76,681.88 L193.91,682.14 L194.08,682.4 L194.27,682.66 L194.48,682.92 L194.7,683.18 L194.92,683.44 L195.13,683.7 L195.32,683.96 L195.48,684.22 L195.6,684.48 L195.67,684.74 L195.7,685 L195.67,685.26 L195.6,685.52 L195.48,685.78 L195.32,686.04 L195.13,686.3 L194.92,686.56 L194.7,686.82 L194.48,687.08 L194.27,687.34 L194.08,687.6 L193.91,687.86 L193.76,688.12 L193.63,688.38 L193.52,688.64 L193.2,688.9 L193.2,688.9 L192.88,688.64 L192.77,688.38 L192.64,688.12 L192.49,687.86 L192.32,687.6 L192.13,687.34 L191.92,687.08 L191.7,686.82 L191.48,686.56 L191.27,686.3 L191.08,686.04 L190.92,685.78 L190.8,685.52 L190.73,685.26 L190.7,685 L190.73,684.74 L190.8,684.48 L190.92,684.22 L191.08,683.96 L191.27,683.7 L191.48,683.44 L191.7,683.18 L191.92,682.92 L192.13,682.66 L192.32,682.4 L192.49,682.14 L192.64,681.88 L192.77,681.62 L192.88,681.36 L192.96,681.1 L193.03,680.84 L193.08,680.58 L193.11,680.32 L193.14,680.06 L193.2,679.8Z" fill="#1760e4" stroke="#4a4a4a" stroke-width="0.35" stroke-linejoin="round"/>
<path d="M213.2,681.6 L214.69,681.65 L215.03,681.7 L215.43,681.75 L215.88,681.81 L216.37,681.86 L216.91,681.91 L217.48,681.96 L218.08,682.01 L218.69,682.06 L219.29,682.11 L219.88,682.17 L220.42,682.22 L220.91,682.27 L221.32,682.32 L221.65,682.37 L221.87,682.42 L221.99,682.47 L221.99,682.53 L221.87,682.58 L221.65,682.63 L221.32,682.68 L220.91,682.73 L220.42,682.78 L219.88,682.83 L219.29,682.89 L218.69,682.94 L218.08,682.99 L217.48,683.04 L216.91,683.09 L216.37,683.14 L215.88,683.19 L215.43,683.25 L215.03,683.3 L214.69,683.35 L213.2,683.4 L213.2,683.4 L211.71,683.35 L211.37,683.3 L210.97,683.25 L210.52,683.19 L210.03,683.14 L209.49,683.09 L208.92,683.04 L208.32,682.99 L207.71,682.94 L207.11,682.89 L206.52,682.83 L205.98,682.78 L205.49,682.73 L205.08,682.68 L204.75,682.63 L204.53,682.58 L204.41,682.53 L204.41,682.47 L204.53,682.42 L204.75,682.37 L205.08,682.32 L205.49,682.27 L205.98,682.22 L206.52,682.17 L207.11,682.11 L207.71,682.06 L208.32,682.01 L208.92,681.96 L209.49,681.91 L210.03,681.86 L210.52,681.81 L210.97,681.75 L211.37,681.7 L211.71,681.65 L213.2,681.6Z" fill="#12b0ee" stroke="#4a4a4a" stroke-width="0.35" stroke-linejoin="round"/>
<path d="M233.2,584.1 L233.24,584.97 L233.26,585.84 L233.29,586.71 L233.34,587.57 L233.39,588.44 L233.47,589.31 L233.55,590.18 L233.66,591.05 L233.77,591.92 L233.9,592.79 L234.02,593.65 L234.14,594.52 L234.25,595.39 L234.33,596.26 L234.38,597.13 L234.4,598 L234.38,598.87 L234.33,599.73 L234.25,600.6 L234.14,601.47 L234.02,602.34 L233.9,603.21 L233.77,604.08 L233.66,604.95 L233.55,605.81 L233.47,606.68 L233.39,607.55 L233.34,608.42 L233.29,609.29 L233.26,610.16 L233.24,611.03 L233.23,611.89 L233.22,612.76 L233.21,613.63 L233.2,614.5 L233.2,614.5 L233.19,613.63 L233.18,612.76 L233.17,611.89 L233.16,611.03 L233.14,610.16 L233.11,609.29 L233.06,608.42 L233.01,607.55 L232.93,606.68 L232.85,605.81 L232.74,604.95 L232.63,604.08 L232.5,603.21 L232.38,602.34 L232.26,601.47 L232.15,600.6 L232.07,599.73 L232.02,598.87 L232,598 L232.02,597.13 L232.07,596.26 L232.15,595.39 L232.26,594.52 L232.38,593.65 L232.5,592.79 L232.63,591.92 L232.74,591.05 L232.85,590.18 L232.93,589.31 L233.01,588.44 L233.06,587.57 L233.11,586.71 L233.14,585.84 L233.16,584.97 L233.2,584.1Z" fill="#10a84a" stroke="#4a4a4a" stroke-width="0.35" stroke-linejoin="round"/>
<path d="M252.9,572.3 L253.11,572.91 L253.19,573.52 L253.29,574.13 L253.4,574.73 L253.51,575.34 L253.61,575.95 L253.7,576.56 L253.77,577.17 L253.8,577.78 L253.8,578.39 L253.76,578.99 L253.7,579.6 L253.64,580.21 L253.6,580.82 L253.6,581.43 L253.67,582.04 L253.82,582.65 L254.05,583.25 L254.32,583.86 L254.56,584.47 L254.72,585.08 L254.73,585.69 L254.58,586.3 L254.32,586.91 L253.99,587.51 L253.66,588.12 L253.39,588.73 L253.19,589.34 L253.05,589.95 L252.97,590.56 L252.93,591.17 L252.91,591.77 L252.9,592.38 L252.9,592.99 L252.9,593.6 L252.9,593.6 L252.9,592.99 L252.9,592.38 L252.89,591.77 L252.87,591.17 L252.83,590.56 L252.75,589.95 L252.61,589.34 L252.41,588.73 L252.14,588.12 L251.81,587.51 L251.48,586.91 L251.22,586.3 L251.07,585.69 L251.08,585.08 L251.24,584.47 L251.48,583.86 L251.75,583.25 L251.98,582.65 L252.13,582.04 L252.2,581.43 L252.2,580.82 L252.16,580.21 L252.1,579.6 L252.04,578.99 L252,578.39 L252,577.78 L252.03,577.17 L252.1,576.56 L252.19,575.95 L252.29,575.34 L252.4,574.73 L252.51,574.13 L252.61,573.52 L252.69,572.91 L252.9,572.3Z" fill="#a6ee12" stroke="#4a4a4a" stroke-width="0.35" stroke-linejoin="round"/>
<path d="M303.2,559.8 V721.8 H545" fill="none" stroke="#a4a4a4" stroke-width="1.2"/>
<path d="M301.9,571.9 H303.2" stroke="#a4a4a4" stroke-width="0.5"/>
<text x="300.9" y="573.19" font-size="3.6" text-anchor="end" class="t" style="stroke-width:0.12px">4000</text>
<path d="M301.9,612.3 H303.2" stroke="#a4a4a4" stroke-width="0.5"/>
<text x="300.9" y="613.59" font-size="3.6" text-anchor="end" class="t" style="stroke-width:0.12px">3000</text>
<path d="M301.9,651.9 H303.2" stroke="#a4a4a4" stroke-width="0.5"/>
<text x="300.9" y="653.19" font-size="3.6" text-anchor="end" class="t" style="stroke-width:0.12px">2000</text>
<path d="M301.9,691.8 H303.2" stroke="#a4a4a4" stroke-width="0.5"/>
<text x="300.9" y="693.09" font-size="3.6" text-anchor="end" class="t" style="stroke-width:0.12px">1000</text>
<path d="M314.8,721.8 V723" stroke="#a4a4a4" stroke-width="0.5"/>
<path d="M334.63,721.8 V723" stroke="#a4a4a4" stroke-width="0.5"/>
<path d="M354.46,721.8 V723" stroke="#a4a4a4" stroke-width="0.5"/>
<path d="M374.29,721.8 V723" stroke="#a4a4a4" stroke-width="0.5"/>
<path d="M394.12,721.8 V723" stroke="#a4a4a4" stroke-width="0.5"/>
<path d="M413.95,721.8 V723" stroke="#a4a4a4" stroke-width="0.5"/>
<path d="M433.78,721.8 V723" stroke="#a4a4a4" stroke-width="0.5"/>
<path d="M453.61,721.8 V723" stroke="#a4a4a4" stroke-width="0.5"/>
<path d="M473.44,721.8 V723" stroke="#a4a4a4" stroke-width="0.5"/>
<path d="M493.27,721.8 V723" stroke="#a4a4a4" stroke-width="0.5"/>
<path d="M513.1,721.8 V723" stroke="#a4a4a4" stroke-width="0.5"/>
<path d="M532.93,721.8 V723" stroke="#a4a4a4" stroke-width="0.5"/>
<text x="311.3" y="730.4" font-size="5.0" textLength="14.5" lengthAdjust="spacingAndGlyphs" class="t" style="stroke-width:0.12px">CMT-1.5</text>
<text x="329.8" y="730.4" font-size="5.0" textLength="17.1" lengthAdjust="spacingAndGlyphs" class="t" style="stroke-width:0.12px">CMPT-1.5</text>
<text x="352" y="730.4" font-size="5.0" textLength="14.5" lengthAdjust="spacingAndGlyphs" class="t" style="stroke-width:0.12px">SMT-1.5</text>
<text x="370.5" y="730.4" font-size="5.0" textLength="16.2" lengthAdjust="spacingAndGlyphs" class="t" style="stroke-width:0.12px">SMPT-1.5</text>
<text x="391.9" y="730.4" font-size="5.0" textLength="14.9" lengthAdjust="spacingAndGlyphs" class="t" style="stroke-width:0.12px">BMT-1.5</text>
<text x="410.2" y="730.4" font-size="5.0" textLength="16.9" lengthAdjust="spacingAndGlyphs" class="t" style="stroke-width:0.12px">BMPT-1.5</text>
<text x="434.1" y="730.4" font-size="5.0" textLength="11.6" lengthAdjust="spacingAndGlyphs" class="t" style="stroke-width:0.12px">CMT-3</text>
<text x="451.6" y="730.4" font-size="5.0" textLength="13.7" lengthAdjust="spacingAndGlyphs" class="t" style="stroke-width:0.12px">CMPT-3</text>
<text x="469.8" y="730.4" font-size="5.0" textLength="11.2" lengthAdjust="spacingAndGlyphs" class="t" style="stroke-width:0.12px">SMT-3</text>
<text x="488.2" y="730.4" font-size="5.0" textLength="13.5" lengthAdjust="spacingAndGlyphs" class="t" style="stroke-width:0.12px">SMPT-3</text>
<text x="509.7" y="730.4" font-size="5.0" textLength="11.5" lengthAdjust="spacingAndGlyphs" class="t" style="stroke-width:0.12px">BMT-3</text>
<text x="526.8" y="730.4" font-size="5.0" textLength="14.1" lengthAdjust="spacingAndGlyphs" class="t" style="stroke-width:0.12px">BMPT-3</text>
<text x="308.7" y="574.3" font-size="9.0" class="t" style="stroke-width:0.05px">h.</text>
<text transform="translate(287.3,635.7) rotate(-90)" y="2.4" font-size="7.0" text-anchor="middle" style="stroke-width:0.12px" textLength="63" lengthAdjust="spacingAndGlyphs" class="t">Oak compounds (μg/L)</text>
<path d="M314.8,683.2 L315.06,683.44 L315.21,683.67 L315.39,683.91 L315.62,684.15 L315.88,684.39 L316.13,684.62 L316.36,684.86 L316.54,685.1 L316.63,685.33 L316.64,685.57 L316.59,685.81 L316.5,686.05 L316.42,686.28 L316.41,686.52 L316.5,686.76 L316.72,686.99 L317.06,687.23 L317.47,687.47 L317.91,687.71 L318.29,687.94 L318.55,688.18 L318.62,688.42 L318.49,688.65 L318.17,688.89 L317.72,689.13 L317.18,689.37 L316.64,689.6 L316.15,689.84 L315.73,690.08 L315.41,690.31 L315.18,690.55 L315.02,690.79 L314.92,691.03 L314.86,691.26 L314.8,691.5 L314.8,691.5 L314.74,691.26 L314.68,691.03 L314.58,690.79 L314.42,690.55 L314.19,690.31 L313.87,690.08 L313.45,689.84 L312.96,689.6 L312.42,689.37 L311.88,689.13 L311.43,688.89 L311.11,688.65 L310.98,688.42 L311.05,688.18 L311.31,687.94 L311.69,687.71 L312.13,687.47 L312.54,687.23 L312.88,686.99 L313.1,686.76 L313.19,686.52 L313.18,686.28 L313.1,686.05 L313.01,685.81 L312.96,685.57 L312.97,685.33 L313.06,685.1 L313.24,684.86 L313.47,684.62 L313.72,684.39 L313.98,684.15 L314.21,683.91 L314.39,683.67 L314.54,683.44 L314.8,683.2Z" fill="#981ca6" stroke="#4a4a4a" stroke-width="0.35" stroke-linejoin="round"/>
<path d="M334.7,695 L335.01,695.54 L335.07,696.07 L335.14,696.61 L335.2,697.15 L335.27,697.69 L335.33,698.22 L335.38,698.76 L335.43,699.3 L335.47,699.83 L335.49,700.37 L335.51,700.91 L335.52,701.45 L335.52,701.98 L335.52,702.52 L335.54,703.06 L335.58,703.59 L335.65,704.13 L335.77,704.67 L335.92,705.21 L336.1,705.74 L336.29,706.28 L336.45,706.82 L336.55,707.35 L336.58,707.89 L336.51,708.43 L336.35,708.97 L336.13,709.5 L335.87,710.04 L335.6,710.58 L335.36,711.11 L335.15,711.65 L334.99,712.19 L334.88,712.73 L334.8,713.26 L334.7,713.8 L334.7,713.8 L334.6,713.26 L334.52,712.73 L334.41,712.19 L334.25,711.65 L334.04,711.11 L333.8,710.58 L333.53,710.04 L333.27,709.5 L333.05,708.97 L332.89,708.43 L332.82,707.89 L332.85,707.35 L332.95,706.82 L333.11,706.28 L333.3,705.74 L333.48,705.21 L333.63,704.67 L333.75,704.13 L333.82,703.59 L333.86,703.06 L333.88,702.52 L333.88,701.98 L333.88,701.45 L333.89,700.91 L333.91,700.37 L333.93,699.83 L333.97,699.3 L334.02,698.76 L334.07,698.22 L334.13,697.69 L334.2,697.15 L334.26,696.61 L334.33,696.07 L334.39,695.54 L334.7,695Z" fill="#f73ef7" stroke="#4a4a4a" stroke-width="0.35" stroke-linejoin="round"/>
<path d="M354.5,654.2 L354.6,654.62 L354.65,655.03 L354.71,655.45 L354.79,655.87 L354.89,656.29 L355.01,656.7 L355.15,657.12 L355.31,657.54 L355.48,657.95 L355.66,658.37 L355.83,658.79 L355.99,659.21 L356.14,659.62 L356.26,660.04 L356.34,660.46 L356.4,660.87 L356.42,661.29 L356.41,661.71 L356.37,662.13 L356.31,662.54 L356.23,662.96 L356.14,663.38 L356.04,663.79 L355.93,664.21 L355.81,664.63 L355.69,665.05 L355.56,665.46 L355.43,665.88 L355.3,666.3 L355.18,666.71 L355.06,667.13 L354.96,667.55 L354.86,667.97 L354.78,668.38 L354.5,668.8 L354.5,668.8 L354.22,668.38 L354.14,667.97 L354.04,667.55 L353.94,667.13 L353.82,666.71 L353.7,666.3 L353.57,665.88 L353.44,665.46 L353.31,665.05 L353.19,664.63 L353.07,664.21 L352.96,663.79 L352.86,663.38 L352.77,662.96 L352.69,662.54 L352.63,662.13 L352.59,661.71 L352.58,661.29 L352.6,660.87 L352.66,660.46 L352.74,660.04 L352.86,659.62 L353.01,659.21 L353.17,658.79 L353.34,658.37 L353.52,657.95 L353.69,657.54 L353.85,657.12 L353.99,656.7 L354.11,656.29 L354.21,655.87 L354.29,655.45 L354.35,655.03 L354.4,654.62 L354.5,654.2Z" fill="#1760e4" stroke="#4a4a4a" stroke-width="0.35" stroke-linejoin="round"/>
<path d="M374.4,644.8 L374.54,645.1 L374.64,645.4 L374.79,645.7 L374.99,646 L375.23,646.3 L375.47,646.6 L375.69,646.9 L375.85,647.2 L375.9,647.5 L375.85,647.8 L375.71,648.1 L375.53,648.4 L375.35,648.7 L375.24,649 L375.27,649.3 L375.47,649.6 L375.85,649.9 L376.39,650.2 L376.98,650.5 L377.51,650.8 L377.84,651.1 L377.89,651.4 L377.63,651.7 L377.14,652 L376.52,652.3 L375.9,652.6 L375.37,652.9 L374.98,653.2 L374.71,653.5 L374.55,653.8 L374.47,654.1 L374.43,654.4 L374.41,654.7 L374.4,655 L374.4,655.3 L374.4,655.3 L374.4,655 L374.39,654.7 L374.37,654.4 L374.33,654.1 L374.25,653.8 L374.09,653.5 L373.82,653.2 L373.43,652.9 L372.9,652.6 L372.28,652.3 L371.66,652 L371.17,651.7 L370.91,651.4 L370.96,651.1 L371.29,650.8 L371.82,650.5 L372.41,650.2 L372.95,649.9 L373.33,649.6 L373.53,649.3 L373.56,649 L373.45,648.7 L373.27,648.4 L373.09,648.1 L372.95,647.8 L372.9,647.5 L372.95,647.2 L373.11,646.9 L373.33,646.6 L373.57,646.3 L373.81,646 L374.01,645.7 L374.16,645.4 L374.26,645.1 L374.4,644.8Z" fill="#12b0ee" stroke="#4a4a4a" stroke-width="0.35" stroke-linejoin="round"/>
<path d="M394.5,695.8 L396.5,695.88 L396.89,695.95 L397.36,696.03 L397.89,696.11 L398.48,696.19 L399.14,696.26 L399.84,696.34 L400.57,696.42 L401.3,696.49 L402.01,696.57 L402.67,696.65 L403.24,696.73 L403.69,696.8 L404,696.88 L404.16,696.96 L404.14,697.03 L403.96,697.11 L403.62,697.19 L403.14,697.27 L402.55,697.34 L401.86,697.42 L401.13,697.5 L400.37,697.57 L399.61,697.65 L398.88,697.73 L398.21,697.81 L397.6,697.88 L397.05,697.96 L396.58,698.04 L396.19,698.11 L395.85,698.19 L395.58,698.27 L395.37,698.35 L395.19,698.42 L394.5,698.5 L394.5,698.5 L393.81,698.42 L393.63,698.35 L393.42,698.27 L393.15,698.19 L392.81,698.11 L392.42,698.04 L391.95,697.96 L391.4,697.88 L390.79,697.81 L390.12,697.73 L389.39,697.65 L388.63,697.57 L387.87,697.5 L387.14,697.42 L386.45,697.34 L385.86,697.27 L385.38,697.19 L385.04,697.11 L384.86,697.03 L384.84,696.96 L385,696.88 L385.31,696.8 L385.76,696.73 L386.33,696.65 L386.99,696.57 L387.7,696.49 L388.43,696.42 L389.16,696.34 L389.86,696.26 L390.52,696.19 L391.11,696.11 L391.64,696.03 L392.11,695.95 L392.5,695.88 L394.5,695.8Z" fill="#10a84a" stroke="#4a4a4a" stroke-width="0.35" stroke-linejoin="round"/>
<path d="M414.1,674.9 L414.29,675.23 L414.39,675.55 L414.51,675.88 L414.67,676.2 L414.87,676.53 L415.1,676.85 L415.36,677.18 L415.64,677.51 L415.93,677.83 L416.2,678.16 L416.43,678.48 L416.62,678.81 L416.74,679.13 L416.8,679.46 L416.79,679.79 L416.71,680.11 L416.59,680.44 L416.43,680.76 L416.26,681.09 L416.08,681.41 L415.92,681.74 L415.76,682.07 L415.63,682.39 L415.5,682.72 L415.39,683.04 L415.28,683.37 L415.17,683.69 L415.06,684.02 L414.95,684.35 L414.83,684.67 L414.72,685 L414.62,685.32 L414.52,685.65 L414.43,685.97 L414.1,686.3 L414.1,686.3 L413.77,685.97 L413.68,685.65 L413.58,685.32 L413.48,685 L413.37,684.67 L413.25,684.35 L413.14,684.02 L413.03,683.69 L412.92,683.37 L412.81,683.04 L412.7,682.72 L412.57,682.39 L412.44,682.07 L412.28,681.74 L412.12,681.41 L411.94,681.09 L411.77,680.76 L411.61,680.44 L411.49,680.11 L411.41,679.79 L411.4,679.46 L411.46,679.13 L411.58,678.81 L411.77,678.48 L412,678.16 L412.27,677.83 L412.56,677.51 L412.84,677.18 L413.1,676.85 L413.33,676.53 L413.53,676.2 L413.69,675.88 L413.81,675.55 L413.91,675.23 L414.1,674.9Z" fill="#a6ee12" stroke="#4a4a4a" stroke-width="0.35" stroke-linejoin="round"/>
<path d="M433.7,683.3 L434.35,683.52 L434.57,683.73 L434.82,683.95 L435.09,684.17 L435.37,684.39 L435.64,684.6 L435.91,684.82 L436.15,685.04 L436.36,685.25 L436.54,685.47 L436.67,685.69 L436.77,685.91 L436.84,686.12 L436.88,686.34 L436.89,686.56 L436.9,686.77 L436.9,686.99 L436.9,687.21 L436.88,687.43 L436.85,687.64 L436.79,687.86 L436.69,688.08 L436.56,688.29 L436.39,688.51 L436.19,688.73 L435.95,688.95 L435.69,689.16 L435.41,689.38 L435.13,689.6 L434.86,689.81 L434.61,690.03 L434.38,690.25 L434.2,690.47 L434.05,690.68 L433.7,690.9 L433.7,690.9 L433.35,690.68 L433.2,690.47 L433.02,690.25 L432.79,690.03 L432.54,689.81 L432.27,689.6 L431.99,689.38 L431.71,689.16 L431.45,688.95 L431.21,688.73 L431.01,688.51 L430.84,688.29 L430.71,688.08 L430.61,687.86 L430.55,687.64 L430.52,687.43 L430.5,687.21 L430.5,686.99 L430.5,686.77 L430.51,686.56 L430.52,686.34 L430.56,686.12 L430.63,685.91 L430.73,685.69 L430.86,685.47 L431.04,685.25 L431.25,685.04 L431.49,684.82 L431.76,684.6 L432.03,684.39 L432.31,684.17 L432.58,683.95 L432.83,683.73 L433.05,683.52 L433.7,683.3Z" fill="#981ca6" stroke="#4a4a4a" stroke-width="0.35" stroke-linejoin="round"/>
<path d="M453.4,681.1 L453.44,681.27 L453.47,681.44 L453.53,681.61 L453.63,681.77 L453.82,681.94 L454.11,682.11 L454.54,682.28 L455.13,682.45 L455.84,682.62 L456.62,682.79 L457.37,682.95 L457.97,683.12 L458.33,683.29 L458.41,683.46 L458.23,683.63 L457.86,683.8 L457.4,683.97 L456.95,684.13 L456.56,684.3 L456.25,684.47 L456.01,684.64 L455.82,684.81 L455.65,684.98 L455.47,685.15 L455.28,685.31 L455.07,685.48 L454.86,685.65 L454.64,685.82 L454.44,685.99 L454.24,686.16 L454.07,686.33 L453.92,686.49 L453.8,686.66 L453.69,686.83 L453.4,687 L453.4,687 L453.11,686.83 L453,686.66 L452.88,686.49 L452.73,686.33 L452.56,686.16 L452.36,685.99 L452.16,685.82 L451.94,685.65 L451.73,685.48 L451.52,685.31 L451.33,685.15 L451.15,684.98 L450.98,684.81 L450.79,684.64 L450.55,684.47 L450.24,684.3 L449.85,684.13 L449.4,683.97 L448.94,683.8 L448.57,683.63 L448.39,683.46 L448.47,683.29 L448.83,683.12 L449.43,682.95 L450.18,682.79 L450.96,682.62 L451.67,682.45 L452.26,682.28 L452.69,682.11 L452.98,681.94 L453.17,681.77 L453.27,681.61 L453.33,681.44 L453.36,681.27 L453.4,681.1Z" fill="#f73ef7" stroke="#4a4a4a" stroke-width="0.35" stroke-linejoin="round"/>
<path d="M473.4,610.6 L473.52,611.04 L473.62,611.47 L473.75,611.91 L473.93,612.35 L474.13,612.79 L474.35,613.22 L474.53,613.66 L474.66,614.1 L474.7,614.53 L474.65,614.97 L474.51,615.41 L474.33,615.85 L474.14,616.28 L473.97,616.72 L473.86,617.16 L473.84,617.59 L473.9,618.03 L474.07,618.47 L474.31,618.91 L474.63,619.34 L474.99,619.78 L475.34,620.22 L475.64,620.65 L475.84,621.09 L475.9,621.53 L475.82,621.97 L475.6,622.4 L475.29,622.84 L474.94,623.28 L474.57,623.71 L474.24,624.15 L473.97,624.59 L473.77,625.03 L473.62,625.46 L473.4,625.9 L473.4,625.9 L473.18,625.46 L473.03,625.03 L472.83,624.59 L472.56,624.15 L472.23,623.71 L471.86,623.28 L471.51,622.84 L471.2,622.4 L470.98,621.97 L470.9,621.53 L470.96,621.09 L471.16,620.65 L471.46,620.22 L471.81,619.78 L472.17,619.34 L472.49,618.91 L472.73,618.47 L472.9,618.03 L472.96,617.59 L472.94,617.16 L472.83,616.72 L472.66,616.28 L472.47,615.85 L472.29,615.41 L472.15,614.97 L472.1,614.53 L472.14,614.1 L472.27,613.66 L472.45,613.22 L472.67,612.79 L472.87,612.35 L473.05,611.91 L473.18,611.47 L473.28,611.04 L473.4,610.6Z" fill="#1760e4" stroke="#4a4a4a" stroke-width="0.35" stroke-linejoin="round"/>
<path d="M493.3,585.7 L493.34,586.31 L493.38,586.91 L493.46,587.52 L493.59,588.12 L493.76,588.73 L493.98,589.33 L494.22,589.94 L494.43,590.55 L494.57,591.15 L494.6,591.76 L494.52,592.36 L494.35,592.97 L494.15,593.57 L493.96,594.18 L493.83,594.79 L493.78,595.39 L493.84,596 L493.99,596.6 L494.21,597.21 L494.48,597.81 L494.77,598.42 L495.02,599.03 L495.21,599.63 L495.3,600.24 L495.27,600.84 L495.13,601.45 L494.91,602.05 L494.63,602.66 L494.34,603.27 L494.06,603.87 L493.83,604.48 L493.65,605.08 L493.51,605.69 L493.42,606.29 L493.3,606.9 L493.3,606.9 L493.18,606.29 L493.09,605.69 L492.95,605.08 L492.77,604.48 L492.54,603.87 L492.26,603.27 L491.97,602.66 L491.69,602.05 L491.47,601.45 L491.33,600.84 L491.3,600.24 L491.39,599.63 L491.58,599.03 L491.83,598.42 L492.12,597.81 L492.39,597.21 L492.61,596.6 L492.76,596 L492.82,595.39 L492.77,594.79 L492.64,594.18 L492.45,593.57 L492.25,592.97 L492.08,592.36 L492,591.76 L492.03,591.15 L492.17,590.55 L492.38,589.94 L492.62,589.33 L492.84,588.73 L493.01,588.12 L493.14,587.52 L493.22,586.91 L493.26,586.31 L493.3,585.7Z" fill="#12b0ee" stroke="#4a4a4a" stroke-width="0.35" stroke-linejoin="round"/>
<path d="M513.4,610.6 L513.51,610.76 L513.57,610.93 L513.65,611.09 L513.77,611.25 L513.92,611.41 L514.12,611.58 L514.38,611.74 L514.68,611.9 L515.04,612.07 L515.45,612.23 L515.89,612.39 L516.34,612.55 L516.79,612.72 L517.2,612.88 L517.54,613.04 L517.81,613.21 L517.96,613.37 L518,613.53 L517.91,613.69 L517.72,613.86 L517.42,614.02 L517.04,614.18 L516.62,614.35 L516.17,614.51 L515.72,614.67 L515.29,614.83 L514.9,615 L514.56,615.16 L514.27,615.32 L514.04,615.49 L513.86,615.65 L513.72,615.81 L513.62,615.97 L513.54,616.14 L513.4,616.3 L513.4,616.3 L513.26,616.14 L513.18,615.97 L513.08,615.81 L512.94,615.65 L512.76,615.49 L512.53,615.32 L512.24,615.16 L511.9,615 L511.51,614.83 L511.08,614.67 L510.63,614.51 L510.18,614.35 L509.76,614.18 L509.38,614.02 L509.08,613.86 L508.89,613.69 L508.8,613.53 L508.84,613.37 L508.99,613.21 L509.26,613.04 L509.6,612.88 L510.01,612.72 L510.46,612.55 L510.91,612.39 L511.35,612.23 L511.76,612.07 L512.12,611.9 L512.42,611.74 L512.68,611.58 L512.88,611.41 L513.03,611.25 L513.15,611.09 L513.23,610.93 L513.29,610.76 L513.4,610.6Z" fill="#10a84a" stroke="#4a4a4a" stroke-width="0.35" stroke-linejoin="round"/>
<path d="M533,567 L533.04,567.55 L533.09,568.1 L533.17,568.65 L533.3,569.19 L533.49,569.74 L533.75,570.29 L534.06,570.84 L534.39,571.39 L534.69,571.94 L534.91,572.49 L535,573.03 L534.95,573.58 L534.76,574.13 L534.48,574.68 L534.17,575.23 L533.89,575.78 L533.68,576.33 L533.58,576.87 L533.59,577.42 L533.69,577.97 L533.88,578.52 L534.1,579.07 L534.31,579.62 L534.45,580.17 L534.5,580.71 L534.44,581.26 L534.29,581.81 L534.06,582.36 L533.82,582.91 L533.58,583.46 L533.38,584.01 L533.23,584.55 L533.13,585.1 L533.07,585.65 L533,586.2 L533,586.2 L532.93,585.65 L532.87,585.1 L532.77,584.55 L532.62,584.01 L532.42,583.46 L532.18,582.91 L531.94,582.36 L531.71,581.81 L531.56,581.26 L531.5,580.71 L531.55,580.17 L531.69,579.62 L531.9,579.07 L532.12,578.52 L532.31,577.97 L532.41,577.42 L532.42,576.87 L532.32,576.33 L532.11,575.78 L531.83,575.23 L531.52,574.68 L531.24,574.13 L531.05,573.58 L531,573.03 L531.09,572.49 L531.31,571.94 L531.61,571.39 L531.94,570.84 L532.25,570.29 L532.51,569.74 L532.7,569.19 L532.83,568.65 L532.91,568.1 L532.96,567.55 L533,567Z" fill="#a6ee12" stroke="#4a4a4a" stroke-width="0.35" stroke-linejoin="round"/>
</svg>
</body></html>
